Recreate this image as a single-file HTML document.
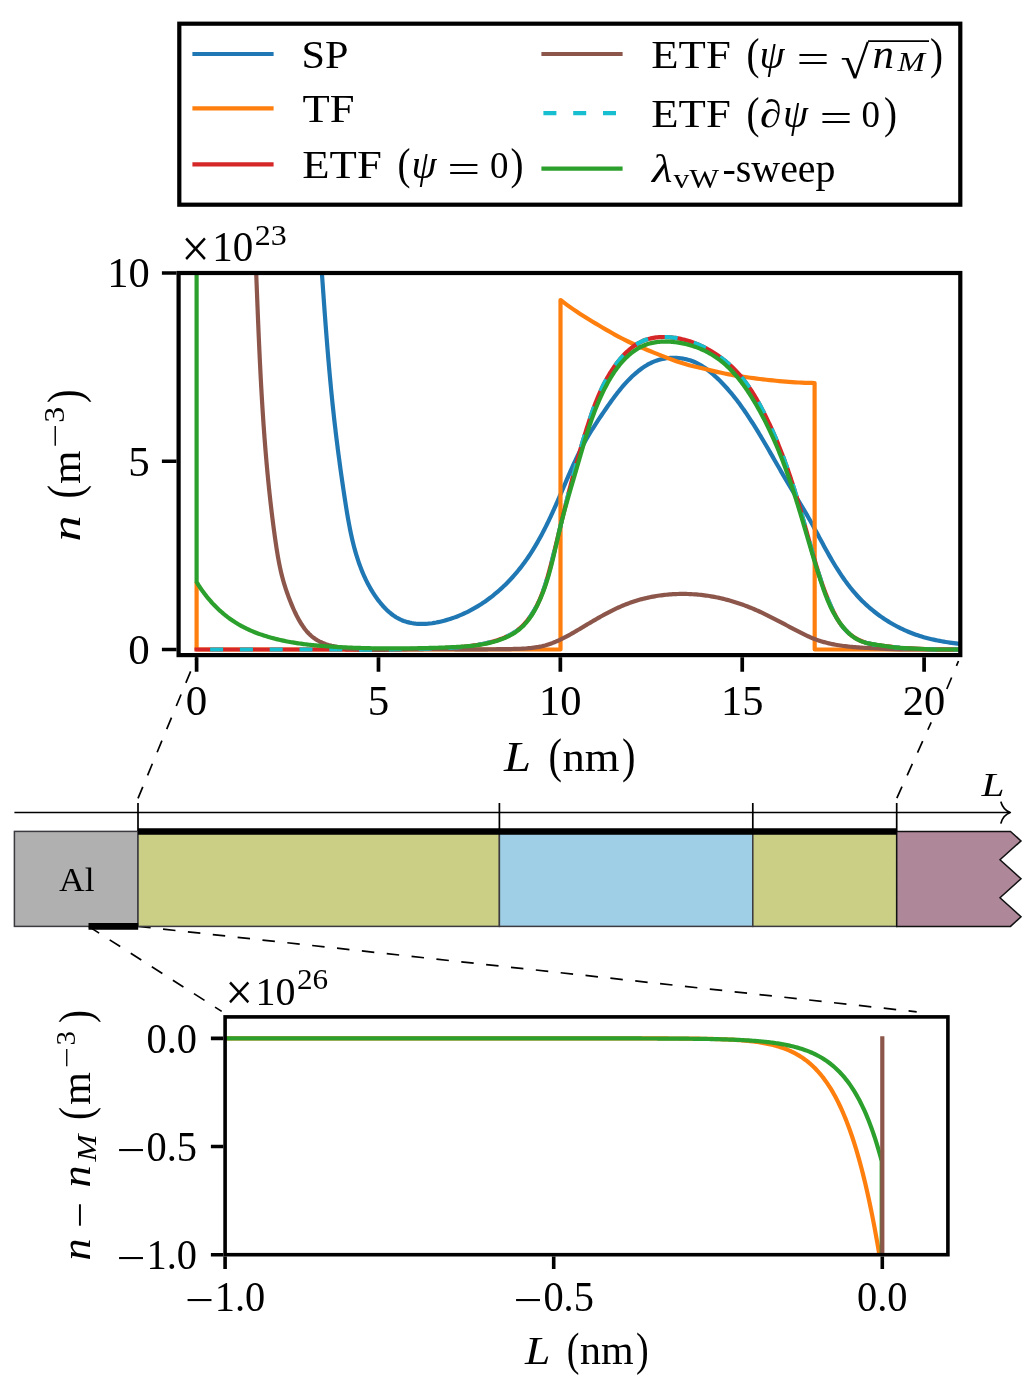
<!DOCTYPE html>
<html lang="en"><head><meta charset="utf-8"><title>Electron density profiles</title>
<style>html,body{margin:0;padding:0;background:#fff}svg{display:block}</style></head>
<body>
<svg width="1025" height="1396" viewBox="0 0 1025 1396" font-family='"Liberation Serif", "DejaVu Serif", serif' fill="#000">
<rect width="1025" height="1396" fill="#fff"/>
<defs><clipPath id="ct"><rect x="178.6" y="273" width="781.7" height="382.1"/></clipPath><clipPath id="cb"><rect x="225.1" y="1016.9" width="722.8" height="237.8"/></clipPath></defs>
<g id="legend">
<rect x="179.3" y="23.7" width="781" height="181" fill="#fff" stroke="#000" stroke-width="4.2"/>
<path d="M192.4 54 H273.6" stroke="#1f77b4" stroke-width="4.2" fill="none"/>
<path d="M192.4 108.4 H273.6" stroke="#ff7f0e" stroke-width="4.2" fill="none"/>
<path d="M192.4 164.4 H273.6" stroke="#d62728" stroke-width="4.2" fill="none"/>
<path d="M541.4 54 H622.6" stroke="#8c564b" stroke-width="4.2" fill="none"/>
<path d="M541.4 113.2 H622.6" stroke="#17becf" stroke-width="4.2" fill="none" stroke-dasharray="13 16.8" stroke-dashoffset="27.8"/>
<path d="M541.4 168.6 H622.6" stroke="#2ca02c" stroke-width="4.2" fill="none"/>
</g>
<g id="topaxes">
<g clip-path="url(#ct)" fill="none" stroke-width="4.2" stroke-linejoin="round">
<path d="M320.27 250.01 L320.42 252.05 L320.56 254.09 L320.71 256.13 L320.85 258.17 L320.99 260.21 L321.14 262.26 L321.28 264.3 L321.42 266.34 L321.57 268.38 L321.71 270.42 L321.85 272.47 L322 274.51 L322.14 276.55 L322.28 278.59 L322.42 280.64 L322.57 282.68 L322.71 284.72 L322.86 286.77 L323 288.81 L323.15 290.85 L323.29 292.9 L323.44 294.94 L323.58 296.98 L323.73 299.03 L323.87 301.07 L324.02 303.11 L324.17 305.16 L324.32 307.2 L324.47 309.25 L324.61 311.29 L324.77 313.33 L324.92 315.38 L325.07 317.42 L325.22 319.47 L325.37 321.51 L325.53 323.55 L325.68 325.6 L325.84 327.64 L325.99 329.68 L326.15 331.73 L326.31 333.77 L326.47 335.82 L326.63 337.86 L326.79 339.9 L326.95 341.95 L327.12 343.99 L327.28 346.03 L327.45 348.07 L327.61 350.12 L327.78 352.16 L327.95 354.2 L328.12 356.24 L328.29 358.29 L328.47 360.33 L328.64 362.37 L328.82 364.41 L329 366.45 L329.18 368.49 L329.36 370.54 L329.54 372.58 L329.73 374.62 L329.91 376.66 L330.1 378.7 L330.29 380.74 L330.48 382.78 L330.67 384.82 L330.87 386.86 L331.06 388.89 L331.26 390.93 L331.46 392.97 L331.66 395.01 L331.87 397.05 L332.07 399.08 L332.28 401.12 L332.49 403.16 L332.7 405.19 L332.92 407.23 L333.13 409.27 L333.35 411.3 L333.57 413.34 L333.8 415.37 L334.02 417.41 L334.25 419.44 L334.48 421.47 L334.71 423.51 L334.94 425.54 L335.18 427.57 L335.42 429.6 L335.66 431.63 L335.9 433.67 L336.15 435.7 L336.39 437.73 L336.64 439.76 L336.9 441.79 L337.15 443.82 L337.41 445.85 L337.66 447.88 L337.92 449.91 L338.19 451.94 L338.45 453.97 L338.72 456 L338.99 458.03 L339.26 460.06 L339.53 462.09 L339.81 464.12 L340.08 466.15 L340.36 468.18 L340.64 470.21 L340.93 472.23 L341.21 474.26 L341.5 476.29 L341.79 478.32 L342.08 480.35 L342.38 482.38 L342.67 484.41 L342.97 486.44 L343.27 488.47 L343.57 490.5 L343.87 492.53 L344.18 494.56 L344.49 496.59 L344.8 498.62 L345.11 500.65 L345.42 502.68 L345.74 504.71 L346.06 506.74 L346.38 508.77 L346.71 510.8 L347.05 512.83 L347.39 514.85 L347.73 516.88 L348.08 518.9 L348.45 520.92 L348.81 522.94 L349.19 524.96 L349.58 526.97 L349.97 528.99 L350.38 530.99 L350.8 533 L351.23 535 L351.67 537 L352.13 539 L352.6 540.99 L353.08 542.97 L353.58 544.96 L354.09 546.93 L354.62 548.91 L355.17 550.87 L355.73 552.84 L356.32 554.79 L356.92 556.74 L357.53 558.69 L358.17 560.63 L358.83 562.56 L359.51 564.48 L360.21 566.4 L360.93 568.31 L361.68 570.21 L362.45 572.11 L363.24 573.99 L364.06 575.87 L364.91 577.73 L365.78 579.58 L366.68 581.42 L367.6 583.24 L368.56 585.06 L369.54 586.85 L370.56 588.64 L371.61 590.4 L372.68 592.16 L373.79 593.89 L374.94 595.61 L376.11 597.3 L377.33 598.98 L378.57 600.64 L379.86 602.28 L381.18 603.89 L382.53 605.47 L383.93 607.01 L385.36 608.51 L386.83 609.96 L388.34 611.37 L389.89 612.72 L391.48 614 L393.11 615.23 L394.78 616.38 L396.49 617.46 L398.25 618.45 L400.05 619.36 L401.89 620.19 L403.76 620.93 L405.67 621.58 L407.62 622.15 L409.59 622.64 L411.58 623.05 L413.6 623.38 L415.63 623.64 L417.67 623.82 L419.73 623.93 L421.79 623.97 L423.85 623.94 L425.91 623.85 L427.97 623.69 L430.03 623.48 L432.08 623.22 L434.13 622.9 L436.16 622.54 L438.19 622.13 L440.21 621.69 L442.22 621.21 L444.22 620.69 L446.2 620.15 L448.17 619.57 L450.13 618.95 L452.08 618.31 L454.02 617.63 L455.94 616.92 L457.85 616.18 L459.74 615.41 L461.63 614.61 L463.49 613.78 L465.35 612.92 L467.19 612.03 L469.02 611.11 L470.83 610.17 L472.63 609.19 L474.42 608.19 L476.19 607.17 L477.94 606.11 L479.69 605.03 L481.41 603.93 L483.12 602.8 L484.82 601.65 L486.5 600.47 L488.16 599.27 L489.81 598.05 L491.44 596.8 L493.05 595.53 L494.65 594.24 L496.23 592.93 L497.8 591.6 L499.35 590.24 L500.88 588.87 L502.39 587.48 L503.89 586.07 L505.37 584.64 L506.83 583.19 L508.27 581.73 L509.7 580.24 L511.1 578.74 L512.49 577.23 L513.86 575.7 L515.21 574.15 L516.54 572.59 L517.86 571.01 L519.15 569.42 L520.42 567.82 L521.68 566.2 L522.91 564.57 L524.13 562.93 L525.33 561.27 L526.51 559.6 L527.67 557.93 L528.82 556.24 L529.94 554.53 L531.06 552.82 L532.15 551.1 L533.24 549.37 L534.3 547.63 L535.35 545.87 L536.39 544.11 L537.41 542.34 L538.43 540.57 L539.42 538.78 L540.41 536.99 L541.38 535.18 L542.34 533.38 L543.29 531.56 L544.23 529.74 L545.16 527.91 L546.08 526.08 L546.99 524.24 L547.89 522.39 L548.78 520.54 L549.66 518.68 L550.54 516.82 L551.4 514.96 L552.26 513.09 L553.12 511.22 L553.96 509.35 L554.81 507.47 L555.64 505.59 L556.47 503.71 L557.3 501.83 L558.12 499.94 L558.94 498.06 L559.75 496.17 L560.56 494.28 L561.37 492.39 L562.18 490.5 L562.98 488.62 L563.79 486.73 L564.59 484.84 L565.4 482.96 L566.21 481.07 L567.02 479.19 L567.83 477.31 L568.64 475.43 L569.46 473.55 L570.29 471.68 L571.11 469.81 L571.95 467.95 L572.79 466.08 L573.64 464.22 L574.49 462.37 L575.36 460.52 L576.23 458.67 L577.11 456.83 L578 455 L578.91 453.17 L579.82 451.35 L580.75 449.53 L581.69 447.72 L582.64 445.92 L583.61 444.12 L584.59 442.33 L585.59 440.55 L586.6 438.78 L587.63 437.01 L588.67 435.25 L589.72 433.5 L590.78 431.75 L591.86 430.01 L592.95 428.27 L594.05 426.54 L595.16 424.82 L596.27 423.1 L597.4 421.38 L598.53 419.67 L599.67 417.96 L600.82 416.25 L601.97 414.55 L603.13 412.85 L604.29 411.15 L605.45 409.45 L606.62 407.76 L607.8 406.07 L608.98 404.38 L610.16 402.7 L611.36 401.03 L612.56 399.36 L613.78 397.71 L615.01 396.06 L616.25 394.42 L617.5 392.8 L618.77 391.19 L620.05 389.6 L621.35 388.02 L622.67 386.46 L624.01 384.91 L625.37 383.39 L626.75 381.88 L628.16 380.4 L629.59 378.94 L631.04 377.51 L632.52 376.1 L634.03 374.71 L635.56 373.36 L637.13 372.03 L638.72 370.74 L640.35 369.49 L642 368.28 L643.69 367.11 L645.41 366 L647.16 364.94 L648.94 363.95 L650.75 363.02 L652.6 362.15 L654.48 361.37 L656.4 360.65 L658.34 360.02 L660.32 359.47 L662.32 358.99 L664.33 358.59 L666.37 358.27 L668.42 358.03 L670.47 357.87 L672.54 357.79 L674.6 357.79 L676.66 357.86 L678.72 358.02 L680.77 358.25 L682.81 358.56 L684.83 358.95 L686.83 359.41 L688.8 359.95 L690.76 360.57 L692.68 361.27 L694.57 362.03 L696.42 362.88 L698.24 363.79 L700.02 364.77 L701.77 365.82 L703.48 366.92 L705.17 368.07 L706.82 369.27 L708.45 370.52 L710.05 371.8 L711.63 373.12 L713.18 374.47 L714.71 375.84 L716.23 377.23 L717.72 378.64 L719.19 380.07 L720.64 381.52 L722.07 382.98 L723.48 384.46 L724.88 385.96 L726.26 387.47 L727.62 389 L728.96 390.54 L730.29 392.1 L731.6 393.67 L732.9 395.26 L734.18 396.85 L735.45 398.46 L736.7 400.09 L737.94 401.72 L739.16 403.36 L740.38 405.02 L741.58 406.68 L742.77 408.35 L743.95 410.03 L745.11 411.72 L746.27 413.42 L747.41 415.12 L748.55 416.84 L749.67 418.55 L750.79 420.28 L751.9 422 L753 423.74 L754.1 425.47 L755.18 427.21 L756.26 428.96 L757.33 430.71 L758.4 432.45 L759.46 434.21 L760.52 435.96 L761.57 437.72 L762.61 439.48 L763.66 441.24 L764.69 443 L765.73 444.77 L766.76 446.54 L767.79 448.3 L768.81 450.07 L769.84 451.84 L770.86 453.62 L771.88 455.39 L772.9 457.16 L773.91 458.93 L774.93 460.71 L775.95 462.48 L776.97 464.26 L777.98 466.03 L779 467.8 L780.02 469.58 L781.04 471.35 L782.07 473.12 L783.09 474.89 L784.12 476.66 L785.15 478.43 L786.19 480.19 L787.23 481.96 L788.27 483.72 L789.32 485.48 L790.37 487.24 L791.42 489 L792.48 490.76 L793.54 492.52 L794.6 494.27 L795.66 496.03 L796.72 497.78 L797.78 499.54 L798.84 501.3 L799.89 503.05 L800.95 504.81 L802 506.57 L803.05 508.33 L804.09 510.1 L805.13 511.86 L806.17 513.63 L807.2 515.4 L808.22 517.18 L809.23 518.96 L810.24 520.74 L811.24 522.52 L812.23 524.31 L813.21 526.11 L814.19 527.9 L815.17 529.7 L816.14 531.49 L817.11 533.29 L818.08 535.1 L819.04 536.9 L820.01 538.7 L820.98 540.5 L821.95 542.3 L822.92 544.1 L823.89 545.9 L824.87 547.7 L825.86 549.49 L826.85 551.28 L827.84 553.07 L828.85 554.86 L829.86 556.64 L830.89 558.42 L831.92 560.2 L832.96 561.97 L834.02 563.73 L835.08 565.48 L836.16 567.23 L837.25 568.98 L838.36 570.71 L839.47 572.43 L840.61 574.15 L841.75 575.85 L842.91 577.54 L844.09 579.22 L845.28 580.89 L846.49 582.55 L847.71 584.19 L848.96 585.82 L850.22 587.43 L851.5 589.03 L852.79 590.61 L854.11 592.17 L855.45 593.72 L856.8 595.25 L858.18 596.76 L859.58 598.25 L861 599.72 L862.44 601.17 L863.91 602.6 L865.39 604.01 L866.9 605.4 L868.42 606.77 L869.97 608.11 L871.53 609.43 L873.11 610.73 L874.72 612.01 L876.34 613.27 L877.97 614.5 L879.63 615.71 L881.3 616.9 L882.99 618.06 L884.7 619.2 L886.42 620.31 L888.16 621.4 L889.91 622.47 L891.68 623.51 L893.46 624.52 L895.26 625.51 L897.07 626.48 L898.89 627.42 L900.73 628.33 L902.58 629.22 L904.44 630.08 L906.32 630.91 L908.2 631.71 L910.1 632.49 L912 633.24 L913.92 633.96 L915.85 634.66 L917.79 635.32 L919.73 635.96 L921.69 636.57 L923.65 637.15 L925.63 637.7 L927.61 638.23 L929.59 638.73 L931.59 639.21 L933.59 639.67 L935.59 640.1 L937.6 640.51 L939.61 640.9 L941.63 641.26 L943.65 641.61 L945.68 641.95 L947.71 642.26 L949.74 642.56 L951.77 642.84 L953.8 643.11 L955.83 643.37 L957.87 643.61 L959.9 643.85 L961.93 644.07 L963.96 644.28 L965.99 644.48" stroke="#1f77b4"/>
<path d="M196.6 582 L196.6 649.5 L560.5 649.5 L560.5 300 L563.72 302.45 L566.93 304.82 L570.15 307.12 L573.37 309.36 L576.58 311.54 L579.8 313.66 L583.02 315.74 L586.23 317.77 L589.45 319.77 L592.66 321.72 L595.88 323.65 L599.1 325.56 L602.31 327.44 L605.53 329.31 L608.75 331.16 L611.96 333 L615.18 334.8 L618.4 336.56 L621.61 338.27 L624.83 339.91 L628.05 341.5 L631.26 343.01 L634.48 344.48 L637.69 345.9 L640.91 347.28 L644.13 348.64 L647.34 349.97 L650.56 351.29 L653.78 352.59 L656.99 353.87 L660.21 355.14 L663.43 356.39 L666.64 357.63 L669.86 358.85 L673.08 360.03 L676.29 361.18 L679.51 362.27 L682.73 363.31 L685.94 364.27 L689.16 365.17 L692.37 366 L695.59 366.79 L698.81 367.56 L702.02 368.31 L705.24 369.06 L708.46 369.82 L711.67 370.59 L714.89 371.35 L718.11 372.1 L721.32 372.82 L724.54 373.51 L727.76 374.15 L730.97 374.75 L734.19 375.31 L737.41 375.85 L740.62 376.35 L743.84 376.83 L747.05 377.29 L750.27 377.74 L753.49 378.17 L756.7 378.59 L759.92 378.99 L763.14 379.38 L766.35 379.76 L769.57 380.11 L772.79 380.46 L776 380.78 L779.22 381.09 L782.44 381.38 L785.65 381.65 L788.87 381.9 L792.08 382.13 L795.3 382.33 L798.52 382.51 L801.73 382.66 L804.95 382.79 L808.17 382.89 L811.38 382.96 L814.6 383 L814.7 649.5 L966 649.5" stroke="#ff7f0e"/>
<path d="M196.6 649.5 L339.99 649.49 L341.36 649.5 L342.72 649.51 L344.08 649.52 L345.44 649.53 L346.8 649.54 L348.16 649.55 L349.52 649.56 L350.87 649.56 L352.23 649.57 L353.59 649.57 L354.95 649.58 L356.31 649.58 L357.67 649.58 L359.02 649.58 L360.38 649.58 L361.74 649.58 L363.09 649.57 L364.45 649.57 L365.81 649.56 L367.16 649.56 L368.52 649.55 L369.88 649.54 L371.23 649.54 L372.59 649.53 L373.95 649.52 L375.3 649.51 L376.66 649.49 L378.01 649.48 L379.37 649.47 L380.72 649.45 L382.08 649.44 L383.43 649.42 L384.79 649.41 L386.14 649.39 L387.5 649.37 L388.85 649.35 L390.21 649.33 L391.56 649.31 L392.92 649.29 L394.27 649.27 L395.63 649.25 L396.99 649.23 L398.34 649.2 L399.7 649.18 L401.05 649.15 L402.41 649.13 L403.76 649.1 L405.12 649.07 L406.47 649.05 L407.83 649.02 L409.18 648.99 L410.54 648.96 L411.9 648.93 L413.25 648.9 L414.61 648.87 L415.97 648.84 L417.32 648.81 L418.68 648.77 L420.04 648.74 L421.39 648.71 L422.75 648.67 L424.11 648.64 L425.47 648.61 L426.83 648.57 L428.18 648.53 L429.54 648.5 L430.9 648.46 L432.26 648.42 L433.62 648.39 L434.98 648.35 L436.34 648.31 L437.7 648.26 L439.06 648.22 L440.42 648.17 L441.78 648.12 L443.14 648.07 L444.5 648.01 L445.85 647.96 L447.21 647.89 L448.57 647.83 L449.93 647.75 L451.29 647.68 L452.64 647.6 L454 647.51 L455.35 647.42 L456.71 647.33 L458.06 647.22 L459.41 647.12 L460.77 647 L462.12 646.88 L463.47 646.75 L464.82 646.61 L466.17 646.47 L467.51 646.32 L468.86 646.16 L470.21 645.99 L471.55 645.81 L472.89 645.62 L474.23 645.43 L475.57 645.22 L476.91 645.01 L478.25 644.78 L479.59 644.54 L480.92 644.3 L482.25 644.04 L483.58 643.77 L484.91 643.49 L486.24 643.2 L487.56 642.89 L488.89 642.58 L490.21 642.25 L491.53 641.9 L492.85 641.55 L494.16 641.17 L495.47 640.79 L496.77 640.39 L498.07 639.97 L499.36 639.53 L500.64 639.07 L501.91 638.6 L503.18 638.1 L504.43 637.59 L505.68 637.05 L506.91 636.49 L508.13 635.91 L509.33 635.3 L510.53 634.67 L511.7 634.01 L512.86 633.33 L514.01 632.62 L515.14 631.89 L516.24 631.12 L517.33 630.33 L518.4 629.5 L519.45 628.65 L520.48 627.76 L521.49 626.84 L522.47 625.9 L523.44 624.92 L524.38 623.93 L525.3 622.9 L526.2 621.86 L527.08 620.8 L527.93 619.72 L528.77 618.63 L529.59 617.52 L530.38 616.4 L531.16 615.27 L531.91 614.13 L532.65 612.99 L533.36 611.83 L534.06 610.66 L534.74 609.49 L535.4 608.31 L536.05 607.12 L536.68 605.92 L537.29 604.71 L537.88 603.5 L538.47 602.28 L539.03 601.05 L539.58 599.81 L540.12 598.57 L540.65 597.33 L541.16 596.07 L541.66 594.82 L542.15 593.55 L542.63 592.28 L543.09 591.01 L543.55 589.73 L543.99 588.45 L544.43 587.17 L544.86 585.88 L545.28 584.58 L545.69 583.29 L546.09 581.99 L546.49 580.69 L546.87 579.38 L547.26 578.07 L547.63 576.77 L548.01 575.46 L548.37 574.14 L548.74 572.83 L549.1 571.52 L549.45 570.2 L549.8 568.89 L550.15 567.57 L550.5 566.26 L550.85 564.94 L551.19 563.63 L551.53 562.31 L551.88 560.99 L552.21 559.68 L552.55 558.36 L552.89 557.05 L553.22 555.73 L553.55 554.42 L553.88 553.1 L554.21 551.78 L554.54 550.47 L554.87 549.15 L555.19 547.84 L555.52 546.52 L555.84 545.2 L556.16 543.89 L556.48 542.57 L556.81 541.25 L557.13 539.94 L557.45 538.62 L557.77 537.3 L558.09 535.99 L558.4 534.67 L558.72 533.35 L559.04 532.03 L559.36 530.72 L559.68 529.4 L560 528.08 L560.31 526.77 L560.63 525.45 L560.95 524.13 L561.27 522.81 L561.59 521.5 L561.91 520.18 L562.23 518.86 L562.55 517.54 L562.87 516.22 L563.19 514.91 L563.51 513.59 L563.84 512.27 L564.16 510.95 L564.48 509.63 L564.81 508.32 L565.13 507 L565.46 505.68 L565.78 504.36 L566.11 503.05 L566.44 501.73 L566.77 500.41 L567.1 499.1 L567.43 497.78 L567.76 496.46 L568.09 495.15 L568.42 493.83 L568.75 492.51 L569.09 491.2 L569.42 489.88 L569.76 488.56 L570.1 487.25 L570.44 485.93 L570.78 484.62 L571.12 483.3 L571.46 481.99 L571.8 480.68 L572.14 479.36 L572.49 478.05 L572.84 476.73 L573.18 475.42 L573.53 474.11 L573.88 472.8 L574.23 471.48 L574.59 470.17 L574.94 468.86 L575.3 467.55 L575.65 466.24 L576.01 464.93 L576.37 463.62 L576.73 462.31 L577.1 461 L577.46 459.69 L577.83 458.38 L578.19 457.08 L578.56 455.77 L578.93 454.46 L579.31 453.16 L579.68 451.85 L580.06 450.55 L580.44 449.24 L580.82 447.94 L581.2 446.63 L581.58 445.33 L581.97 444.03 L582.35 442.73 L582.74 441.43 L583.13 440.13 L583.53 438.83 L583.92 437.53 L584.32 436.23 L584.72 434.93 L585.12 433.63 L585.52 432.34 L585.93 431.04 L586.33 429.74 L586.74 428.45 L587.15 427.16 L587.57 425.86 L587.98 424.57 L588.4 423.28 L588.82 421.99 L589.25 420.7 L589.67 419.41 L590.1 418.12 L590.54 416.83 L590.97 415.55 L591.41 414.27 L591.86 412.98 L592.31 411.7 L592.76 410.43 L593.22 409.15 L593.68 407.88 L594.15 406.61 L594.63 405.34 L595.11 404.07 L595.59 402.81 L596.09 401.55 L596.59 400.29 L597.09 399.04 L597.6 397.78 L598.12 396.54 L598.65 395.29 L599.19 394.05 L599.73 392.81 L600.28 391.58 L600.84 390.35 L601.41 389.13 L601.99 387.91 L602.58 386.69 L603.17 385.48 L603.78 384.27 L604.4 383.07 L605.02 381.87 L605.66 380.68 L606.31 379.49 L606.97 378.31 L607.63 377.13 L608.32 375.96 L609.01 374.79 L609.71 373.64 L610.43 372.48 L611.16 371.33 L611.9 370.19 L612.65 369.06 L613.42 367.93 L614.2 366.8 L614.99 365.69 L615.8 364.58 L616.62 363.48 L617.46 362.38 L618.31 361.3 L619.17 360.22 L620.05 359.16 L620.95 358.1 L621.85 357.06 L622.78 356.04 L623.72 355.03 L624.67 354.04 L625.64 353.06 L626.62 352.1 L627.62 351.17 L628.63 350.25 L629.66 349.36 L630.7 348.49 L631.76 347.64 L632.84 346.82 L633.93 346.03 L635.03 345.27 L636.15 344.53 L637.29 343.83 L638.45 343.15 L639.62 342.51 L640.8 341.9 L642 341.33 L643.22 340.79 L644.46 340.29 L645.71 339.83 L646.98 339.41 L648.26 339.02 L649.56 338.67 L650.87 338.36 L652.19 338.08 L653.52 337.83 L654.86 337.62 L656.21 337.44 L657.56 337.29 L658.93 337.18 L660.3 337.09 L661.67 337.04 L663.04 337.01 L664.42 337.01 L665.8 337.04 L667.18 337.09 L668.56 337.17 L669.94 337.27 L671.31 337.4 L672.68 337.55 L674.04 337.72 L675.4 337.91 L676.75 338.13 L678.09 338.36 L679.43 338.62 L680.76 338.9 L682.08 339.19 L683.4 339.51 L684.71 339.84 L686.01 340.19 L687.3 340.56 L688.59 340.96 L689.88 341.36 L691.15 341.79 L692.42 342.24 L693.68 342.7 L694.94 343.18 L696.19 343.67 L697.43 344.19 L698.67 344.72 L699.9 345.26 L701.13 345.83 L702.35 346.4 L703.56 347 L704.77 347.61 L705.98 348.23 L707.17 348.87 L708.36 349.53 L709.55 350.19 L710.72 350.88 L711.89 351.58 L713.05 352.29 L714.21 353.01 L715.36 353.75 L716.49 354.5 L717.63 355.27 L718.75 356.05 L719.86 356.84 L720.96 357.65 L722.06 358.47 L723.14 359.3 L724.22 360.14 L725.29 361 L726.34 361.86 L727.38 362.74 L728.42 363.63 L729.44 364.54 L730.45 365.45 L731.45 366.38 L732.44 367.31 L733.41 368.26 L734.38 369.22 L735.33 370.19 L736.27 371.17 L737.19 372.16 L738.11 373.16 L739.01 374.17 L739.9 375.19 L740.77 376.21 L741.64 377.25 L742.49 378.3 L743.34 379.35 L744.17 380.42 L744.99 381.49 L745.8 382.57 L746.6 383.66 L747.4 384.75 L748.18 385.85 L748.95 386.96 L749.71 388.08 L750.47 389.2 L751.21 390.33 L751.95 391.47 L752.67 392.61 L753.39 393.76 L754.1 394.92 L754.81 396.07 L755.5 397.24 L756.19 398.41 L756.87 399.58 L757.55 400.76 L758.21 401.95 L758.87 403.13 L759.53 404.33 L760.18 405.52 L760.82 406.72 L761.46 407.92 L762.09 409.13 L762.71 410.34 L763.33 411.55 L763.95 412.76 L764.56 413.98 L765.17 415.19 L765.77 416.41 L766.37 417.63 L766.96 418.86 L767.55 420.08 L768.14 421.31 L768.72 422.54 L769.3 423.77 L769.87 425 L770.44 426.23 L771 427.47 L771.56 428.7 L772.12 429.94 L772.68 431.18 L773.23 432.42 L773.77 433.66 L774.31 434.91 L774.85 436.16 L775.39 437.4 L775.92 438.65 L776.44 439.9 L776.97 441.16 L777.49 442.41 L778 443.66 L778.51 444.92 L779.02 446.18 L779.53 447.44 L780.03 448.7 L780.53 449.96 L781.02 451.22 L781.51 452.49 L782 453.75 L782.49 455.02 L782.97 456.29 L783.45 457.56 L783.92 458.83 L784.39 460.1 L784.86 461.38 L785.33 462.65 L785.79 463.93 L786.25 465.2 L786.7 466.48 L787.15 467.76 L787.6 469.04 L788.05 470.32 L788.49 471.6 L788.94 472.89 L789.37 474.17 L789.81 475.46 L790.24 476.74 L790.67 478.03 L791.09 479.32 L791.52 480.61 L791.94 481.9 L792.36 483.19 L792.77 484.48 L793.18 485.77 L793.6 487.07 L794 488.36 L794.41 489.66 L794.81 490.95 L795.21 492.25 L795.61 493.55 L796.01 494.85 L796.4 496.14 L796.79 497.44 L797.18 498.74 L797.57 500.04 L797.96 501.35 L798.34 502.65 L798.72 503.95 L799.11 505.25 L799.49 506.56 L799.86 507.86 L800.24 509.16 L800.62 510.47 L800.99 511.77 L801.37 513.08 L801.74 514.38 L802.11 515.69 L802.48 517 L802.85 518.3 L803.22 519.61 L803.59 520.91 L803.96 522.22 L804.32 523.53 L804.69 524.84 L805.06 526.14 L805.42 527.45 L805.79 528.76 L806.15 530.07 L806.52 531.37 L806.88 532.68 L807.25 533.99 L807.61 535.3 L807.98 536.6 L808.34 537.91 L808.71 539.22 L809.08 540.52 L809.44 541.83 L809.81 543.14 L810.18 544.44 L810.55 545.75 L810.92 547.05 L811.29 548.36 L811.66 549.66 L812.03 550.97 L812.4 552.27 L812.78 553.58 L813.15 554.88 L813.53 556.18 L813.91 557.49 L814.28 558.79 L814.67 560.09 L815.05 561.39 L815.43 562.69 L815.82 563.99 L816.2 565.29 L816.6 566.59 L816.99 567.88 L817.38 569.18 L817.78 570.48 L818.18 571.77 L818.59 573.06 L819 574.36 L819.41 575.65 L819.82 576.94 L820.24 578.22 L820.67 579.51 L821.09 580.8 L821.53 582.08 L821.96 583.36 L822.41 584.64 L822.85 585.92 L823.31 587.2 L823.77 588.48 L824.23 589.75 L824.7 591.02 L825.18 592.29 L825.66 593.56 L826.15 594.83 L826.64 596.09 L827.15 597.35 L827.66 598.61 L828.17 599.87 L828.7 601.13 L829.23 602.38 L829.77 603.63 L830.32 604.88 L830.87 606.12 L831.44 607.36 L832.01 608.6 L832.59 609.84 L833.19 611.08 L833.79 612.31 L834.4 613.53 L835.03 614.75 L835.67 615.96 L836.32 617.16 L836.99 618.35 L837.68 619.53 L838.39 620.7 L839.12 621.85 L839.87 622.98 L840.65 624.1 L841.45 625.2 L842.27 626.28 L843.13 627.34 L844 628.38 L844.91 629.39 L845.84 630.38 L846.79 631.35 L847.77 632.29 L848.78 633.2 L849.8 634.08 L850.85 634.93 L851.93 635.75 L853.02 636.53 L854.14 637.29 L855.28 638 L856.44 638.69 L857.62 639.33 L858.82 639.94 L860.04 640.5 L861.28 641.03 L862.54 641.52 L863.81 641.97 L865.1 642.39 L866.4 642.78 L867.71 643.14 L869.03 643.47 L870.35 643.78 L871.69 644.07 L873.02 644.34 L874.37 644.59 L875.71 644.82 L877.06 645.04 L878.42 645.24 L879.77 645.43 L881.13 645.61 L882.49 645.79 L883.85 645.95 L885.21 646.11 L886.56 646.26 L887.92 646.41 L889.28 646.55 L890.63 646.7 L891.98 646.85 L893.32 647 L894.66 647.16 L896 647.32 L897.33 647.48 L898.65 647.66 L899.97 647.85 L915 648.6 L935 649.5 L966 649.5" stroke="#d62728" stroke-linecap="square"/>
<path d="M255.27 250 L255.34 251.66 L255.41 253.31 L255.47 254.97 L255.54 256.62 L255.6 258.28 L255.67 259.93 L255.74 261.59 L255.8 263.24 L255.87 264.9 L255.93 266.55 L256 268.21 L256.06 269.86 L256.13 271.52 L256.19 273.17 L256.26 274.83 L256.32 276.48 L256.39 278.14 L256.45 279.8 L256.52 281.45 L256.58 283.11 L256.65 284.76 L256.71 286.42 L256.78 288.08 L256.84 289.73 L256.91 291.39 L256.97 293.04 L257.04 294.7 L257.1 296.35 L257.17 298.01 L257.23 299.67 L257.3 301.32 L257.36 302.98 L257.43 304.64 L257.5 306.29 L257.56 307.95 L257.63 309.6 L257.7 311.26 L257.76 312.92 L257.83 314.57 L257.9 316.23 L257.96 317.89 L258.03 319.54 L258.1 321.2 L258.17 322.85 L258.24 324.51 L258.31 326.17 L258.38 327.82 L258.45 329.48 L258.52 331.14 L258.59 332.79 L258.66 334.45 L258.73 336.1 L258.81 337.76 L258.88 339.42 L258.95 341.07 L259.03 342.73 L259.1 344.39 L259.18 346.04 L259.25 347.7 L259.33 349.35 L259.4 351.01 L259.48 352.67 L259.56 354.32 L259.64 355.98 L259.71 357.63 L259.79 359.29 L259.87 360.95 L259.95 362.6 L260.04 364.26 L260.12 365.91 L260.2 367.57 L260.28 369.22 L260.37 370.88 L260.45 372.54 L260.54 374.19 L260.62 375.85 L260.71 377.5 L260.8 379.16 L260.89 380.81 L260.98 382.47 L261.07 384.12 L261.16 385.78 L261.25 387.43 L261.34 389.09 L261.44 390.74 L261.53 392.4 L261.63 394.05 L261.72 395.71 L261.82 397.36 L261.92 399.02 L262.02 400.67 L262.12 402.33 L262.22 403.98 L262.32 405.63 L262.42 407.29 L262.53 408.94 L262.63 410.6 L262.74 412.25 L262.85 413.9 L262.96 415.56 L263.07 417.21 L263.18 418.86 L263.29 420.52 L263.4 422.17 L263.51 423.82 L263.63 425.48 L263.75 427.13 L263.86 428.78 L263.98 430.44 L264.1 432.09 L264.22 433.74 L264.35 435.39 L264.47 437.04 L264.59 438.7 L264.72 440.35 L264.85 442 L264.98 443.65 L265.11 445.3 L265.24 446.96 L265.37 448.61 L265.51 450.26 L265.64 451.91 L265.78 453.56 L265.92 455.21 L266.06 456.86 L266.2 458.51 L266.34 460.16 L266.48 461.81 L266.63 463.46 L266.78 465.11 L266.93 466.76 L267.08 468.41 L267.23 470.06 L267.38 471.71 L267.53 473.36 L267.69 475.01 L267.85 476.66 L268.01 478.31 L268.17 479.95 L268.33 481.6 L268.5 483.25 L268.66 484.9 L268.83 486.55 L269 488.2 L269.17 489.84 L269.35 491.49 L269.52 493.14 L269.7 494.79 L269.88 496.43 L270.06 498.08 L270.24 499.73 L270.42 501.38 L270.61 503.02 L270.8 504.67 L270.99 506.32 L271.18 507.96 L271.37 509.61 L271.57 511.26 L271.77 512.9 L271.97 514.55 L272.17 516.2 L272.37 517.84 L272.58 519.49 L272.79 521.13 L273 522.78 L273.21 524.43 L273.43 526.07 L273.64 527.72 L273.86 529.36 L274.09 531.01 L274.31 532.65 L274.53 534.3 L274.76 535.95 L274.99 537.59 L275.23 539.24 L275.46 540.88 L275.7 542.53 L275.94 544.17 L276.19 545.82 L276.43 547.46 L276.69 549.1 L276.95 550.74 L277.21 552.38 L277.48 554.02 L277.76 555.66 L278.04 557.3 L278.33 558.93 L278.63 560.56 L278.94 562.19 L279.26 563.82 L279.58 565.44 L279.92 567.06 L280.27 568.68 L280.62 570.3 L280.99 571.91 L281.37 573.52 L281.77 575.12 L282.18 576.72 L282.6 578.32 L283.03 579.91 L283.48 581.49 L283.94 583.08 L284.42 584.66 L284.91 586.23 L285.42 587.8 L285.93 589.37 L286.46 590.93 L287 592.5 L287.56 594.05 L288.12 595.61 L288.7 597.16 L289.28 598.71 L289.88 600.26 L290.48 601.81 L291.1 603.35 L291.73 604.89 L292.38 606.43 L293.04 607.96 L293.71 609.48 L294.4 611 L295.12 612.51 L295.85 614.02 L296.59 615.52 L297.37 617 L298.16 618.48 L298.97 619.95 L299.81 621.41 L300.68 622.85 L301.57 624.28 L302.5 625.69 L303.45 627.07 L304.43 628.42 L305.45 629.74 L306.51 631.02 L307.6 632.27 L308.73 633.47 L309.9 634.63 L311.11 635.74 L312.37 636.79 L313.66 637.8 L315 638.74 L316.37 639.64 L317.78 640.48 L319.22 641.27 L320.69 642.01 L322.19 642.7 L323.71 643.33 L325.26 643.91 L326.83 644.45 L328.41 644.93 L330.02 645.38 L331.63 645.79 L333.25 646.16 L334.89 646.51 L336.53 646.83 L338.17 647.13 L339.81 647.41 L341.45 647.67 L343.1 647.91 L344.74 648.14 L346.39 648.35 L348.04 648.54 L349.69 648.72 L351.34 648.88 L352.99 649.03 L354.64 649.16 L356.3 649.28 L357.95 649.39 L359.61 649.49 L361.27 649.57 L362.93 649.64 L364.58 649.7 L366.24 649.75 L367.9 649.8 L369.56 649.83 L371.22 649.85 L372.88 649.87 L374.55 649.88 L376.21 649.88 L377.87 649.88 L379.53 649.87 L381.19 649.85 L382.86 649.84 L384.52 649.81 L386.18 649.79 L387.84 649.76 L389.5 649.73 L391.16 649.7 L392.83 649.66 L394.49 649.63 L396.15 649.6 L397.81 649.57 L399.47 649.53 L401.12 649.5 L402.78 649.48 L404.44 649.45 L406.1 649.43 L407.75 649.41 L409.41 649.38 L411.06 649.37 L412.72 649.35 L414.37 649.33 L416.03 649.32 L417.68 649.31 L419.34 649.3 L420.99 649.29 L422.64 649.28 L424.29 649.27 L425.95 649.26 L427.6 649.26 L429.25 649.26 L430.9 649.25 L432.55 649.25 L434.2 649.25 L435.86 649.25 L437.51 649.25 L439.16 649.25 L440.81 649.25 L442.46 649.25 L444.11 649.25 L445.76 649.26 L447.41 649.26 L449.07 649.26 L450.72 649.27 L452.37 649.27 L454.02 649.27 L455.67 649.28 L457.33 649.28 L458.98 649.29 L460.63 649.29 L462.28 649.29 L463.94 649.3 L465.59 649.3 L467.25 649.3 L468.9 649.3 L470.56 649.3 L472.21 649.31 L473.87 649.31 L475.53 649.31 L477.18 649.3 L478.84 649.3 L480.5 649.3 L482.16 649.3 L483.82 649.29 L485.48 649.29 L487.14 649.28 L488.81 649.27 L490.47 649.26 L492.13 649.25 L493.8 649.24 L495.46 649.23 L497.13 649.21 L498.8 649.2 L500.46 649.18 L502.13 649.16 L503.8 649.14 L505.48 649.11 L507.15 649.09 L508.82 649.06 L510.5 649.03 L512.17 649 L513.85 648.97 L515.52 648.93 L517.2 648.88 L518.87 648.82 L520.54 648.76 L522.21 648.68 L523.88 648.58 L525.54 648.48 L527.2 648.35 L528.86 648.21 L530.51 648.05 L532.15 647.87 L533.79 647.66 L535.42 647.43 L537.05 647.17 L538.66 646.89 L540.27 646.57 L541.87 646.23 L543.46 645.85 L545.04 645.44 L546.61 644.99 L548.17 644.51 L549.72 644 L551.26 643.46 L552.79 642.89 L554.32 642.28 L555.83 641.66 L557.34 641 L558.84 640.33 L560.33 639.63 L561.82 638.91 L563.3 638.17 L564.78 637.41 L566.25 636.64 L567.71 635.85 L569.17 635.05 L570.63 634.24 L572.08 633.41 L573.53 632.58 L574.98 631.74 L576.42 630.9 L577.86 630.05 L579.3 629.19 L580.74 628.34 L582.17 627.48 L583.61 626.63 L585.04 625.77 L586.48 624.91 L587.91 624.06 L589.35 623.21 L590.78 622.36 L592.22 621.51 L593.66 620.67 L595.09 619.83 L596.53 618.99 L597.97 618.16 L599.42 617.34 L600.86 616.53 L602.31 615.72 L603.77 614.92 L605.22 614.12 L606.68 613.34 L608.14 612.57 L609.61 611.8 L611.08 611.05 L612.55 610.31 L614.03 609.58 L615.52 608.87 L617.01 608.17 L618.51 607.48 L620.01 606.8 L621.52 606.15 L623.03 605.5 L624.56 604.88 L626.09 604.27 L627.62 603.68 L629.17 603.1 L630.72 602.55 L632.28 602.01 L633.84 601.49 L635.41 600.98 L636.99 600.5 L638.58 600.03 L640.17 599.58 L641.76 599.15 L643.36 598.73 L644.97 598.34 L646.58 597.96 L648.2 597.59 L649.82 597.25 L651.44 596.92 L653.07 596.61 L654.7 596.32 L656.34 596.04 L657.98 595.78 L659.62 595.54 L661.27 595.31 L662.92 595.11 L664.57 594.92 L666.23 594.74 L667.88 594.58 L669.54 594.44 L671.2 594.32 L672.87 594.21 L674.53 594.12 L676.19 594.05 L677.86 593.99 L679.53 593.95 L681.19 593.93 L682.86 593.93 L684.53 593.94 L686.2 593.96 L687.86 594 L689.53 594.06 L691.19 594.14 L692.86 594.23 L694.52 594.34 L696.18 594.46 L697.84 594.6 L699.5 594.76 L701.16 594.93 L702.81 595.12 L704.47 595.33 L706.11 595.55 L707.76 595.79 L709.4 596.04 L711.04 596.31 L712.68 596.6 L714.31 596.9 L715.94 597.21 L717.56 597.54 L719.18 597.89 L720.8 598.26 L722.41 598.63 L724.02 599.03 L725.62 599.43 L727.22 599.86 L728.82 600.29 L730.41 600.74 L732 601.21 L733.58 601.68 L735.16 602.18 L736.73 602.68 L738.3 603.2 L739.87 603.73 L741.43 604.27 L742.99 604.83 L744.54 605.4 L746.09 605.98 L747.64 606.57 L749.18 607.18 L750.71 607.79 L752.25 608.42 L753.77 609.06 L755.3 609.71 L756.82 610.37 L758.33 611.04 L759.84 611.72 L761.35 612.41 L762.85 613.12 L764.34 613.83 L765.84 614.55 L767.33 615.28 L768.81 616.02 L770.3 616.76 L771.77 617.51 L773.25 618.27 L774.73 619.03 L776.2 619.79 L777.67 620.56 L779.14 621.34 L780.61 622.11 L782.07 622.89 L783.54 623.67 L785.01 624.45 L786.47 625.23 L787.94 626.02 L789.4 626.79 L790.87 627.57 L792.34 628.35 L793.8 629.12 L795.27 629.89 L796.75 630.65 L798.22 631.41 L799.69 632.17 L801.17 632.92 L802.65 633.66 L804.14 634.39 L805.63 635.11 L807.12 635.82 L808.62 636.51 L810.13 637.19 L811.65 637.83 L813.18 638.46 L814.72 639.06 L816.27 639.63 L817.83 640.18 L819.4 640.7 L820.98 641.2 L822.56 641.68 L824.16 642.13 L825.75 642.56 L827.36 642.97 L828.97 643.36 L830.58 643.73 L832.2 644.07 L833.83 644.4 L835.45 644.7 L837.08 644.99 L838.72 645.26 L840.36 645.52 L842 645.75 L843.64 645.98 L845.29 646.18 L846.94 646.38 L848.59 646.56 L850.24 646.73 L851.9 646.89 L853.55 647.04 L855.21 647.17 L856.87 647.3 L858.53 647.42 L860.19 647.54 L861.85 647.64 L863.51 647.74 L865.17 647.84 L866.83 647.93 L868.48 648.01 L870.14 648.1 L871.8 648.18 L873.45 648.26 L875.11 648.34 L876.76 648.41 L878.41 648.49 L880.06 648.58 L881.7 648.66 L883.34 648.75 L884.98 648.84 L900 649.5 L966 649.5" stroke="#8c564b"/>
<path d="M196.6 649.5 L339.99 649.49 L341.36 649.5 L342.72 649.51 L344.08 649.52 L345.44 649.53 L346.8 649.54 L348.16 649.55 L349.52 649.56 L350.87 649.56 L352.23 649.57 L353.59 649.57 L354.95 649.58 L356.31 649.58 L357.67 649.58 L359.02 649.58 L360.38 649.58 L361.74 649.58 L363.09 649.57 L364.45 649.57 L365.81 649.56 L367.16 649.56 L368.52 649.55 L369.88 649.54 L371.23 649.54 L372.59 649.53 L373.95 649.52 L375.3 649.51 L376.66 649.49 L378.01 649.48 L379.37 649.47 L380.72 649.45 L382.08 649.44 L383.43 649.42 L384.79 649.41 L386.14 649.39 L387.5 649.37 L388.85 649.35 L390.21 649.33 L391.56 649.31 L392.92 649.29 L394.27 649.27 L395.63 649.25 L396.99 649.23 L398.34 649.2 L399.7 649.18 L401.05 649.15 L402.41 649.13 L403.76 649.1 L405.12 649.07 L406.47 649.05 L407.83 649.02 L409.18 648.99 L410.54 648.96 L411.9 648.93 L413.25 648.9 L414.61 648.87 L415.97 648.84 L417.32 648.81 L418.68 648.77 L420.04 648.74 L421.39 648.71 L422.75 648.67 L424.11 648.64 L425.47 648.61 L426.83 648.57 L428.18 648.53 L429.54 648.5 L430.9 648.46 L432.26 648.42 L433.62 648.39 L434.98 648.35 L436.34 648.31 L437.7 648.26 L439.06 648.22 L440.42 648.17 L441.78 648.12 L443.14 648.07 L444.5 648.01 L445.85 647.96 L447.21 647.89 L448.57 647.83 L449.93 647.75 L451.29 647.68 L452.64 647.6 L454 647.51 L455.35 647.42 L456.71 647.33 L458.06 647.22 L459.41 647.12 L460.77 647 L462.12 646.88 L463.47 646.75 L464.82 646.61 L466.17 646.47 L467.51 646.32 L468.86 646.16 L470.21 645.99 L471.55 645.81 L472.89 645.62 L474.23 645.43 L475.57 645.22 L476.91 645.01 L478.25 644.78 L479.59 644.54 L480.92 644.3 L482.25 644.04 L483.58 643.77 L484.91 643.49 L486.24 643.2 L487.56 642.89 L488.89 642.58 L490.21 642.25 L491.53 641.9 L492.85 641.55 L494.16 641.17 L495.47 640.79 L496.77 640.39 L498.07 639.97 L499.36 639.53 L500.64 639.07 L501.91 638.6 L503.18 638.1 L504.43 637.59 L505.68 637.05 L506.91 636.49 L508.13 635.91 L509.33 635.3 L510.53 634.67 L511.7 634.01 L512.86 633.33 L514.01 632.62 L515.14 631.89 L516.24 631.12 L517.33 630.33 L518.4 629.5 L519.45 628.65 L520.48 627.76 L521.49 626.84 L522.47 625.9 L523.44 624.92 L524.38 623.93 L525.3 622.9 L526.2 621.86 L527.08 620.8 L527.93 619.72 L528.77 618.63 L529.59 617.52 L530.38 616.4 L531.16 615.27 L531.91 614.13 L532.65 612.99 L533.36 611.83 L534.06 610.66 L534.74 609.49 L535.4 608.31 L536.05 607.12 L536.68 605.92 L537.29 604.71 L537.88 603.5 L538.47 602.28 L539.03 601.05 L539.58 599.81 L540.12 598.57 L540.65 597.33 L541.16 596.07 L541.66 594.82 L542.15 593.55 L542.63 592.28 L543.09 591.01 L543.55 589.73 L543.99 588.45 L544.43 587.17 L544.86 585.88 L545.28 584.58 L545.69 583.29 L546.09 581.99 L546.49 580.69 L546.87 579.38 L547.26 578.07 L547.63 576.77 L548.01 575.46 L548.37 574.14 L548.74 572.83 L549.1 571.52 L549.45 570.2 L549.8 568.89 L550.15 567.57 L550.5 566.26 L550.85 564.94 L551.19 563.63 L551.53 562.31 L551.88 560.99 L552.21 559.68 L552.55 558.36 L552.89 557.05 L553.22 555.73 L553.55 554.42 L553.88 553.1 L554.21 551.78 L554.54 550.47 L554.87 549.15 L555.19 547.84 L555.52 546.52 L555.84 545.2 L556.16 543.89 L556.48 542.57 L556.81 541.25 L557.13 539.94 L557.45 538.62 L557.77 537.3 L558.09 535.99 L558.4 534.67 L558.72 533.35 L559.04 532.03 L559.36 530.72 L559.68 529.4 L560 528.08 L560.31 526.77 L560.63 525.45 L560.95 524.13 L561.27 522.81 L561.59 521.5 L561.91 520.18 L562.23 518.86 L562.55 517.54 L562.87 516.22 L563.19 514.91 L563.51 513.59 L563.84 512.27 L564.16 510.95 L564.48 509.63 L564.81 508.32 L565.13 507 L565.46 505.68 L565.78 504.36 L566.11 503.05 L566.44 501.73 L566.77 500.41 L567.1 499.1 L567.43 497.78 L567.76 496.46 L568.09 495.15 L568.42 493.83 L568.75 492.51 L569.09 491.2 L569.42 489.88 L569.76 488.56 L570.1 487.25 L570.44 485.93 L570.78 484.62 L571.12 483.3 L571.46 481.99 L571.8 480.68 L572.14 479.36 L572.49 478.05 L572.84 476.73 L573.18 475.42 L573.53 474.11 L573.88 472.8 L574.23 471.48 L574.59 470.17 L574.94 468.86 L575.3 467.55 L575.65 466.24 L576.01 464.93 L576.37 463.62 L576.73 462.31 L577.1 461 L577.46 459.69 L577.83 458.38 L578.19 457.08 L578.56 455.77 L578.93 454.46 L579.31 453.16 L579.68 451.85 L580.06 450.55 L580.44 449.24 L580.82 447.94 L581.2 446.63 L581.58 445.33 L581.97 444.03 L582.35 442.73 L582.74 441.43 L583.13 440.13 L583.53 438.83 L583.92 437.53 L584.32 436.23 L584.72 434.93 L585.12 433.63 L585.52 432.34 L585.93 431.04 L586.33 429.74 L586.74 428.45 L587.15 427.16 L587.57 425.86 L587.98 424.57 L588.4 423.28 L588.82 421.99 L589.25 420.7 L589.67 419.41 L590.1 418.12 L590.54 416.83 L590.97 415.55 L591.41 414.27 L591.86 412.98 L592.31 411.7 L592.76 410.43 L593.22 409.15 L593.68 407.88 L594.15 406.61 L594.63 405.34 L595.11 404.07 L595.59 402.81 L596.09 401.55 L596.59 400.29 L597.09 399.04 L597.6 397.78 L598.12 396.54 L598.65 395.29 L599.19 394.05 L599.73 392.81 L600.28 391.58 L600.84 390.35 L601.41 389.13 L601.99 387.91 L602.58 386.69 L603.17 385.48 L603.78 384.27 L604.4 383.07 L605.02 381.87 L605.66 380.68 L606.31 379.49 L606.97 378.31 L607.63 377.13 L608.32 375.96 L609.01 374.79 L609.71 373.64 L610.43 372.48 L611.16 371.33 L611.9 370.19 L612.65 369.06 L613.42 367.93 L614.2 366.8 L614.99 365.69 L615.8 364.58 L616.62 363.48 L617.46 362.38 L618.31 361.3 L619.17 360.22 L620.05 359.16 L620.95 358.1 L621.85 357.06 L622.78 356.04 L623.72 355.03 L624.67 354.04 L625.64 353.06 L626.62 352.1 L627.62 351.17 L628.63 350.25 L629.66 349.36 L630.7 348.49 L631.76 347.64 L632.84 346.82 L633.93 346.03 L635.03 345.27 L636.15 344.53 L637.29 343.83 L638.45 343.15 L639.62 342.51 L640.8 341.9 L642 341.33 L643.22 340.79 L644.46 340.29 L645.71 339.83 L646.98 339.41 L648.26 339.02 L649.56 338.67 L650.87 338.36 L652.19 338.08 L653.52 337.83 L654.86 337.62 L656.21 337.44 L657.56 337.29 L658.93 337.18 L660.3 337.09 L661.67 337.04 L663.04 337.01 L664.42 337.01 L665.8 337.04 L667.18 337.09 L668.56 337.17 L669.94 337.27 L671.31 337.4 L672.68 337.55 L674.04 337.72 L675.4 337.91 L676.75 338.13 L678.09 338.36 L679.43 338.62 L680.76 338.9 L682.08 339.19 L683.4 339.51 L684.71 339.84 L686.01 340.19 L687.3 340.56 L688.59 340.96 L689.88 341.36 L691.15 341.79 L692.42 342.24 L693.68 342.7 L694.94 343.18 L696.19 343.67 L697.43 344.19 L698.67 344.72 L699.9 345.26 L701.13 345.83 L702.35 346.4 L703.56 347 L704.77 347.61 L705.98 348.23 L707.17 348.87 L708.36 349.53 L709.55 350.19 L710.72 350.88 L711.89 351.58 L713.05 352.29 L714.21 353.01 L715.36 353.75 L716.49 354.5 L717.63 355.27 L718.75 356.05 L719.86 356.84 L720.96 357.65 L722.06 358.47 L723.14 359.3 L724.22 360.14 L725.29 361 L726.34 361.86 L727.38 362.74 L728.42 363.63 L729.44 364.54 L730.45 365.45 L731.45 366.38 L732.44 367.31 L733.41 368.26 L734.38 369.22 L735.33 370.19 L736.27 371.17 L737.19 372.16 L738.11 373.16 L739.01 374.17 L739.9 375.19 L740.77 376.21 L741.64 377.25 L742.49 378.3 L743.34 379.35 L744.17 380.42 L744.99 381.49 L745.8 382.57 L746.6 383.66 L747.4 384.75 L748.18 385.85 L748.95 386.96 L749.71 388.08 L750.47 389.2 L751.21 390.33 L751.95 391.47 L752.67 392.61 L753.39 393.76 L754.1 394.92 L754.81 396.07 L755.5 397.24 L756.19 398.41 L756.87 399.58 L757.55 400.76 L758.21 401.95 L758.87 403.13 L759.53 404.33 L760.18 405.52 L760.82 406.72 L761.46 407.92 L762.09 409.13 L762.71 410.34 L763.33 411.55 L763.95 412.76 L764.56 413.98 L765.17 415.19 L765.77 416.41 L766.37 417.63 L766.96 418.86 L767.55 420.08 L768.14 421.31 L768.72 422.54 L769.3 423.77 L769.87 425 L770.44 426.23 L771 427.47 L771.56 428.7 L772.12 429.94 L772.68 431.18 L773.23 432.42 L773.77 433.66 L774.31 434.91 L774.85 436.16 L775.39 437.4 L775.92 438.65 L776.44 439.9 L776.97 441.16 L777.49 442.41 L778 443.66 L778.51 444.92 L779.02 446.18 L779.53 447.44 L780.03 448.7 L780.53 449.96 L781.02 451.22 L781.51 452.49 L782 453.75 L782.49 455.02 L782.97 456.29 L783.45 457.56 L783.92 458.83 L784.39 460.1 L784.86 461.38 L785.33 462.65 L785.79 463.93 L786.25 465.2 L786.7 466.48 L787.15 467.76 L787.6 469.04 L788.05 470.32 L788.49 471.6 L788.94 472.89 L789.37 474.17 L789.81 475.46 L790.24 476.74 L790.67 478.03 L791.09 479.32 L791.52 480.61 L791.94 481.9 L792.36 483.19 L792.77 484.48 L793.18 485.77 L793.6 487.07 L794 488.36 L794.41 489.66 L794.81 490.95 L795.21 492.25 L795.61 493.55 L796.01 494.85 L796.4 496.14 L796.79 497.44 L797.18 498.74 L797.57 500.04 L797.96 501.35 L798.34 502.65 L798.72 503.95 L799.11 505.25 L799.49 506.56 L799.86 507.86 L800.24 509.16 L800.62 510.47 L800.99 511.77 L801.37 513.08 L801.74 514.38 L802.11 515.69 L802.48 517 L802.85 518.3 L803.22 519.61 L803.59 520.91 L803.96 522.22 L804.32 523.53 L804.69 524.84 L805.06 526.14 L805.42 527.45 L805.79 528.76 L806.15 530.07 L806.52 531.37 L806.88 532.68 L807.25 533.99 L807.61 535.3 L807.98 536.6 L808.34 537.91 L808.71 539.22 L809.08 540.52 L809.44 541.83 L809.81 543.14 L810.18 544.44 L810.55 545.75 L810.92 547.05 L811.29 548.36 L811.66 549.66 L812.03 550.97 L812.4 552.27 L812.78 553.58 L813.15 554.88 L813.53 556.18 L813.91 557.49 L814.28 558.79 L814.67 560.09 L815.05 561.39 L815.43 562.69 L815.82 563.99 L816.2 565.29 L816.6 566.59 L816.99 567.88 L817.38 569.18 L817.78 570.48 L818.18 571.77 L818.59 573.06 L819 574.36 L819.41 575.65 L819.82 576.94 L820.24 578.22 L820.67 579.51 L821.09 580.8 L821.53 582.08 L821.96 583.36 L822.41 584.64 L822.85 585.92 L823.31 587.2 L823.77 588.48 L824.23 589.75 L824.7 591.02 L825.18 592.29 L825.66 593.56 L826.15 594.83 L826.64 596.09 L827.15 597.35 L827.66 598.61 L828.17 599.87 L828.7 601.13 L829.23 602.38 L829.77 603.63 L830.32 604.88 L830.87 606.12 L831.44 607.36 L832.01 608.6 L832.59 609.84 L833.19 611.08 L833.79 612.31 L834.4 613.53 L835.03 614.75 L835.67 615.96 L836.32 617.16 L836.99 618.35 L837.68 619.53 L838.39 620.7 L839.12 621.85 L839.87 622.98 L840.65 624.1 L841.45 625.2 L842.27 626.28 L843.13 627.34 L844 628.38 L844.91 629.39 L845.84 630.38 L846.79 631.35 L847.77 632.29 L848.78 633.2 L849.8 634.08 L850.85 634.93 L851.93 635.75 L853.02 636.53 L854.14 637.29 L855.28 638 L856.44 638.69 L857.62 639.33 L858.82 639.94 L860.04 640.5 L861.28 641.03 L862.54 641.52 L863.81 641.97 L865.1 642.39 L866.4 642.78 L867.71 643.14 L869.03 643.47 L870.35 643.78 L871.69 644.07 L873.02 644.34 L874.37 644.59 L875.71 644.82 L877.06 645.04 L878.42 645.24 L879.77 645.43 L881.13 645.61 L882.49 645.79 L883.85 645.95 L885.21 646.11 L886.56 646.26 L887.92 646.41 L889.28 646.55 L890.63 646.7 L891.98 646.85 L893.32 647 L894.66 647.16 L896 647.32 L897.33 647.48 L898.65 647.66 L899.97 647.85 L915 648.6 L935 649.5 L966 649.5" stroke="#17becf" stroke-dasharray="13 16.8" stroke-dashoffset="16.3"/>
<path d="M196.6 250 L196.6 582.02 L197.31 583.19 L198.04 584.36 L198.78 585.52 L199.53 586.68 L200.29 587.82 L201.07 588.96 L201.86 590.1 L202.66 591.22 L203.47 592.34 L204.3 593.45 L205.14 594.55 L205.99 595.65 L206.85 596.73 L207.73 597.81 L208.62 598.87 L209.52 599.93 L210.43 600.98 L211.35 602.01 L212.28 603.04 L213.23 604.06 L214.18 605.06 L215.15 606.06 L216.13 607.04 L217.12 608.01 L218.12 608.98 L219.13 609.92 L220.15 610.86 L221.19 611.79 L222.23 612.7 L223.28 613.6 L224.35 614.49 L225.42 615.36 L226.51 616.22 L227.6 617.06 L228.71 617.9 L229.83 618.72 L230.95 619.52 L232.09 620.31 L233.23 621.08 L234.39 621.84 L235.55 622.59 L236.72 623.31 L237.91 624.03 L239.1 624.72 L240.3 625.4 L241.51 626.07 L242.73 626.72 L243.96 627.36 L245.19 627.98 L246.43 628.59 L247.68 629.18 L248.94 629.76 L250.2 630.32 L251.47 630.88 L252.74 631.41 L254.03 631.94 L255.31 632.45 L256.6 632.95 L257.9 633.44 L259.2 633.92 L260.51 634.38 L261.82 634.83 L263.13 635.27 L264.45 635.7 L265.77 636.12 L267.1 636.52 L268.42 636.92 L269.75 637.31 L271.08 637.68 L272.42 638.05 L273.75 638.4 L275.09 638.75 L276.43 639.09 L277.78 639.41 L279.12 639.73 L280.47 640.04 L281.82 640.34 L283.17 640.63 L284.52 640.91 L285.87 641.19 L287.23 641.45 L288.58 641.71 L289.94 641.96 L291.3 642.2 L292.67 642.44 L294.03 642.67 L295.39 642.89 L296.76 643.1 L298.13 643.31 L299.5 643.5 L300.87 643.7 L302.24 643.88 L303.61 644.06 L304.98 644.24 L306.36 644.41 L307.73 644.57 L309.11 644.73 L310.48 644.88 L311.86 645.02 L313.24 645.17 L314.62 645.3 L316 645.43 L317.38 645.56 L318.76 645.68 L320.14 645.8 L321.52 645.92 L322.9 646.03 L324.28 646.13 L325.66 646.24 L327.05 646.34 L328.43 646.43 L329.81 646.53 L331.19 646.62 L332.58 646.7 L333.96 646.79 L335.34 646.87 L336.72 646.95 L338.1 647.03 L339.49 647.11 L340.87 647.18 L342.25 647.25 L343.63 647.32 L345.01 647.38 L346.39 647.45 L347.77 647.51 L349.16 647.57 L350.54 647.63 L351.92 647.68 L353.3 647.73 L354.68 647.78 L356.06 647.83 L357.44 647.88 L358.82 647.92 L360.21 647.97 L361.59 648.01 L362.97 648.04 L364.35 648.08 L365.73 648.11 L367.11 648.15 L368.49 648.18 L369.87 648.21 L371.26 648.23 L372.64 648.26 L374.02 648.28 L375.4 648.3 L376.78 648.32 L378.16 648.34 L379.55 648.35 L380.93 648.37 L382.31 648.38 L383.69 648.39 L385.08 648.4 L386.46 648.41 L387.84 648.42 L389.22 648.42 L390.61 648.43 L391.99 648.43 L393.37 648.43 L394.76 648.43 L396.14 648.43 L397.53 648.42 L398.91 648.42 L400.29 648.41 L401.68 648.4 L403.06 648.39 L404.45 648.38 L405.83 648.37 L407.22 648.36 L408.6 648.34 L409.99 648.33 L411.38 648.31 L412.76 648.29 L414.15 648.27 L415.53 648.25 L416.92 648.23 L418.3 648.21 L419.69 648.18 L421.08 648.16 L422.46 648.13 L423.85 648.1 L425.23 648.07 L426.62 648.04 L428 648 L429.39 647.97 L430.77 647.93 L432.16 647.89 L433.54 647.85 L434.93 647.81 L436.31 647.77 L437.7 647.73 L439.08 647.68 L440.46 647.64 L441.85 647.59 L443.23 647.54 L444.61 647.49 L445.99 647.44 L447.38 647.38 L448.76 647.33 L450.14 647.27 L451.52 647.21 L452.9 647.15 L454.28 647.09 L455.66 647.03 L457.04 646.96 L458.42 646.88 L459.79 646.8 L461.17 646.72 L462.55 646.63 L463.92 646.53 L465.3 646.43 L466.67 646.32 L468.05 646.2 L469.42 646.07 L470.79 645.94 L472.16 645.79 L473.53 645.64 L474.9 645.47 L476.27 645.29 L477.64 645.1 L479.01 644.9 L480.37 644.69 L481.74 644.46 L483.1 644.22 L484.46 643.96 L485.82 643.69 L487.19 643.4 L488.54 643.1 L489.9 642.78 L491.26 642.44 L492.61 642.09 L493.97 641.71 L495.31 641.32 L496.66 640.91 L497.99 640.48 L499.32 640.03 L500.64 639.56 L501.95 639.07 L503.26 638.56 L504.55 638.02 L505.83 637.47 L507.09 636.89 L508.35 636.29 L509.58 635.66 L510.8 635.01 L512.01 634.33 L513.19 633.63 L514.36 632.91 L515.51 632.16 L516.63 631.38 L517.74 630.57 L518.82 629.74 L519.88 628.88 L520.91 627.99 L521.92 627.08 L522.9 626.13 L523.86 625.17 L524.8 624.17 L525.72 623.16 L526.61 622.12 L527.48 621.06 L528.33 619.97 L529.16 618.87 L529.97 617.75 L530.76 616.61 L531.53 615.46 L532.28 614.29 L533.01 613.11 L533.73 611.91 L534.43 610.7 L535.11 609.47 L535.78 608.24 L536.43 607 L537.06 605.75 L537.69 604.49 L538.29 603.22 L538.89 601.95 L539.47 600.67 L540.03 599.39 L540.59 598.11 L541.13 596.82 L541.67 595.53 L542.19 594.24 L542.7 592.94 L543.19 591.64 L543.68 590.34 L544.16 589.04 L544.63 587.73 L545.09 586.43 L545.54 585.12 L545.98 583.8 L546.41 582.49 L546.83 581.17 L547.25 579.85 L547.66 578.53 L548.06 577.21 L548.45 575.88 L548.83 574.55 L549.21 573.22 L549.59 571.89 L549.95 570.56 L550.31 569.23 L550.67 567.89 L551.02 566.56 L551.36 565.22 L551.7 563.88 L552.04 562.54 L552.37 561.2 L552.7 559.86 L553.02 558.51 L553.34 557.17 L553.66 555.83 L553.97 554.48 L554.29 553.13 L554.6 551.79 L554.91 550.44 L555.21 549.09 L555.52 547.75 L555.82 546.4 L556.13 545.05 L556.43 543.7 L556.74 542.35 L557.04 541.01 L557.35 539.66 L557.65 538.31 L557.96 536.96 L558.27 535.62 L558.58 534.27 L558.89 532.92 L559.2 531.58 L559.52 530.23 L559.84 528.89 L560.16 527.55 L560.48 526.2 L560.81 524.86 L561.14 523.52 L561.48 522.18 L561.82 520.84 L562.16 519.5 L562.51 518.16 L562.85 516.83 L563.2 515.49 L563.56 514.16 L563.91 512.82 L564.27 511.49 L564.63 510.15 L564.99 508.82 L565.36 507.49 L565.73 506.15 L566.1 504.82 L566.47 503.49 L566.84 502.16 L567.21 500.83 L567.59 499.5 L567.97 498.17 L568.35 496.84 L568.73 495.51 L569.11 494.18 L569.5 492.85 L569.88 491.52 L570.27 490.19 L570.65 488.86 L571.04 487.53 L571.43 486.2 L571.82 484.88 L572.21 483.55 L572.6 482.22 L572.99 480.89 L573.38 479.56 L573.77 478.23 L574.16 476.9 L574.55 475.57 L574.94 474.24 L575.33 472.91 L575.72 471.58 L576.11 470.25 L576.5 468.92 L576.89 467.59 L577.28 466.26 L577.66 464.93 L578.05 463.6 L578.44 462.26 L578.82 460.93 L579.21 459.6 L579.59 458.26 L579.98 456.93 L580.37 455.6 L580.75 454.27 L581.14 452.93 L581.53 451.6 L581.92 450.27 L582.31 448.94 L582.7 447.61 L583.09 446.28 L583.49 444.95 L583.89 443.62 L584.28 442.29 L584.68 440.96 L585.09 439.64 L585.49 438.31 L585.9 436.99 L586.31 435.66 L586.72 434.34 L587.14 433.02 L587.56 431.7 L587.98 430.38 L588.41 429.07 L588.84 427.75 L589.27 426.44 L589.71 425.13 L590.15 423.82 L590.6 422.51 L591.05 421.2 L591.51 419.9 L591.97 418.59 L592.43 417.29 L592.91 416 L593.38 414.7 L593.86 413.41 L594.35 412.12 L594.84 410.83 L595.34 409.54 L595.85 408.26 L596.36 406.98 L596.88 405.7 L597.4 404.43 L597.93 403.16 L598.47 401.89 L599.02 400.62 L599.57 399.36 L600.13 398.1 L600.7 396.84 L601.27 395.59 L601.85 394.34 L602.44 393.09 L603.04 391.85 L603.65 390.61 L604.27 389.38 L604.89 388.15 L605.53 386.92 L606.17 385.69 L606.82 384.47 L607.48 383.26 L608.15 382.05 L608.83 380.84 L609.53 379.64 L610.23 378.45 L610.94 377.26 L611.67 376.08 L612.41 374.9 L613.16 373.74 L613.92 372.58 L614.7 371.43 L615.49 370.3 L616.3 369.17 L617.12 368.05 L617.96 366.94 L618.81 365.85 L619.68 364.77 L620.56 363.7 L621.47 362.64 L622.39 361.6 L623.32 360.58 L624.28 359.56 L625.26 358.57 L626.25 357.59 L627.27 356.62 L628.3 355.68 L629.35 354.75 L630.42 353.85 L631.51 352.97 L632.62 352.11 L633.74 351.28 L634.88 350.47 L636.04 349.7 L637.21 348.95 L638.4 348.24 L639.6 347.56 L640.82 346.92 L642.05 346.31 L643.29 345.74 L644.55 345.2 L645.83 344.71 L647.11 344.26 L648.41 343.85 L649.72 343.48 L651.04 343.14 L652.37 342.84 L653.7 342.58 L655.05 342.35 L656.4 342.15 L657.76 341.98 L659.13 341.85 L660.5 341.74 L661.87 341.66 L663.25 341.61 L664.63 341.58 L666.02 341.58 L667.4 341.6 L668.79 341.65 L670.18 341.72 L671.56 341.81 L672.95 341.92 L674.34 342.06 L675.72 342.22 L677.11 342.39 L678.49 342.6 L679.87 342.82 L681.24 343.06 L682.62 343.33 L683.99 343.62 L685.35 343.92 L686.71 344.25 L688.07 344.6 L689.42 344.97 L690.77 345.36 L692.1 345.77 L693.44 346.2 L694.76 346.65 L696.08 347.12 L697.39 347.61 L698.7 348.12 L699.99 348.65 L701.27 349.2 L702.55 349.76 L703.82 350.35 L705.07 350.95 L706.32 351.57 L707.55 352.21 L708.77 352.87 L709.98 353.55 L711.18 354.24 L712.37 354.95 L713.54 355.68 L714.7 356.43 L715.84 357.19 L716.97 357.97 L718.09 358.77 L719.19 359.58 L720.28 360.41 L721.36 361.26 L722.42 362.12 L723.47 362.99 L724.51 363.88 L725.53 364.79 L726.55 365.7 L727.55 366.64 L728.54 367.58 L729.51 368.54 L730.48 369.51 L731.43 370.49 L732.38 371.49 L733.31 372.49 L734.23 373.51 L735.14 374.54 L736.04 375.58 L736.93 376.63 L737.81 377.69 L738.68 378.76 L739.54 379.83 L740.4 380.92 L741.24 382.02 L742.07 383.12 L742.9 384.24 L743.71 385.36 L744.52 386.48 L745.32 387.62 L746.11 388.76 L746.89 389.91 L747.67 391.06 L748.44 392.22 L749.2 393.39 L749.95 394.56 L750.7 395.73 L751.44 396.91 L752.18 398.1 L752.91 399.28 L753.63 400.47 L754.34 401.67 L755.06 402.86 L755.76 404.06 L756.46 405.27 L757.15 406.47 L757.84 407.68 L758.53 408.89 L759.2 410.1 L759.88 411.31 L760.54 412.53 L761.21 413.75 L761.86 414.97 L762.52 416.2 L763.16 417.42 L763.8 418.65 L764.44 419.88 L765.07 421.12 L765.7 422.35 L766.32 423.59 L766.94 424.83 L767.55 426.07 L768.16 427.32 L768.76 428.56 L769.36 429.81 L769.96 431.06 L770.54 432.32 L771.13 433.57 L771.71 434.83 L772.29 436.08 L772.86 437.34 L773.42 438.61 L773.99 439.87 L774.55 441.14 L775.1 442.4 L775.65 443.67 L776.2 444.94 L776.74 446.22 L777.28 447.49 L777.81 448.77 L778.34 450.04 L778.87 451.32 L779.39 452.6 L779.91 453.88 L780.43 455.17 L780.94 456.45 L781.45 457.74 L781.95 459.03 L782.45 460.32 L782.95 461.61 L783.44 462.9 L783.93 464.19 L784.42 465.48 L784.9 466.78 L785.38 468.08 L785.86 469.37 L786.34 470.67 L786.81 471.97 L787.27 473.27 L787.74 474.58 L788.2 475.88 L788.66 477.18 L789.11 478.49 L789.57 479.79 L790.02 481.1 L790.46 482.41 L790.91 483.72 L791.35 485.03 L791.79 486.34 L792.22 487.65 L792.66 488.96 L793.09 490.27 L793.52 491.58 L793.94 492.9 L794.37 494.21 L794.79 495.53 L795.21 496.84 L795.63 498.16 L796.05 499.47 L796.46 500.79 L796.87 502.11 L797.28 503.43 L797.69 504.75 L798.1 506.07 L798.51 507.39 L798.91 508.71 L799.31 510.03 L799.72 511.35 L800.12 512.67 L800.52 513.99 L800.91 515.32 L801.31 516.64 L801.71 517.96 L802.1 519.29 L802.5 520.61 L802.89 521.94 L803.28 523.26 L803.68 524.59 L804.07 525.91 L804.46 527.24 L804.85 528.57 L805.24 529.89 L805.63 531.22 L806.02 532.55 L806.41 533.87 L806.8 535.2 L807.19 536.53 L807.58 537.86 L807.97 539.18 L808.36 540.51 L808.75 541.84 L809.14 543.17 L809.53 544.5 L809.93 545.82 L810.32 547.15 L810.71 548.48 L811.1 549.81 L811.5 551.14 L811.89 552.46 L812.29 553.79 L812.69 555.12 L813.09 556.45 L813.49 557.77 L813.89 559.1 L814.29 560.43 L814.69 561.76 L815.1 563.08 L815.5 564.41 L815.91 565.74 L816.32 567.06 L816.73 568.39 L817.14 569.72 L817.56 571.04 L817.97 572.37 L818.39 573.69 L818.81 575.02 L819.23 576.34 L819.66 577.66 L820.08 578.99 L820.51 580.31 L820.94 581.63 L821.38 582.96 L821.82 584.28 L822.26 585.6 L822.7 586.92 L823.16 588.23 L823.61 589.54 L824.08 590.85 L824.54 592.16 L825.02 593.47 L825.51 594.77 L826 596.06 L826.5 597.36 L827.01 598.64 L827.53 599.93 L828.06 601.2 L828.6 602.47 L829.15 603.74 L829.71 605 L830.29 606.25 L830.88 607.5 L831.48 608.74 L832.09 609.97 L832.72 611.19 L833.37 612.41 L834.02 613.61 L834.7 614.81 L835.39 616 L836.1 617.18 L836.82 618.35 L837.57 619.51 L838.33 620.66 L839.11 621.79 L839.91 622.92 L840.73 624.04 L841.57 625.14 L842.43 626.23 L843.31 627.31 L844.22 628.37 L845.14 629.42 L846.09 630.44 L847.06 631.44 L848.05 632.42 L849.07 633.37 L850.1 634.3 L851.16 635.19 L852.25 636.04 L853.35 636.87 L854.48 637.65 L855.64 638.39 L856.81 639.09 L858.01 639.75 L859.24 640.35 L860.49 640.91 L861.76 641.42 L863.06 641.88 L864.37 642.3 L865.7 642.68 L867.05 643.03 L868.41 643.35 L869.77 643.63 L871.15 643.9 L872.54 644.14 L873.92 644.37 L875.31 644.59 L876.7 644.8 L878.09 645 L879.47 645.2 L880.85 645.41 L882.22 645.61 L883.58 645.82 L884.94 646.03 L886.3 646.24 L887.66 646.44 L889.01 646.64 L890.37 646.83 L891.72 647.01 L893.08 647.18 L894.45 647.34 L895.82 647.48 L897.2 647.61 L898.59 647.72 L899.99 647.82 L915 648.6 L935 649.5 L966 649.5" stroke="#2ca02c" stroke-linejoin="miter"/>
</g>
<path d="M196.6 657.2 v14.6 M378.48 657.2 v14.6 M560.35 657.2 v14.6 M742.23 657.2 v14.6 M924.1 657.2 v14.6 M176.5 649.5 h-14.6 M176.5 461.25 h-14.6 M176.5 273 h-14.6" stroke="#000" stroke-width="3.7" fill="none"/>
<rect x="178.6" y="273" width="781.7" height="382.1" fill="none" stroke="#000" stroke-width="4.2"/>
</g>
<g id="schematic">
<g stroke="#000" stroke-width="1.7" fill="none" stroke-dasharray="12.5 12.5">
<path d="M138 798.4 L196.6 657"/>
<path d="M896.83 798.05 L931.2 722.4"/>
<path d="M946.8 689 L958.5 661"/>
<path d="M88.6 926.4 L221.7 1011.35"/>
<path d="M138.2 926.4 L916.7 1011.8"/>
</g>
<path d="M14.4 812.5 H1009.5" stroke="#000" stroke-width="1.7" fill="none"/>
<path d="M1001 802.2 C1002.6 807.5 1006 811 1010.3 812.5 C1006 814 1002.6 817.5 1001 822.9" stroke="#000" stroke-width="1.7" fill="none" stroke-linecap="round" stroke-linejoin="round"/>
<rect x="14.4" y="831.4" width="123.6" height="95" fill="#b0b0b0" stroke="#3a3a40" stroke-width="1.5"/>
<rect x="138" y="831.4" width="361.4" height="95" fill="#cacf85" stroke="#3a3a40" stroke-width="1.5"/>
<rect x="499.4" y="831.4" width="253.4" height="95" fill="#9fcfe6" stroke="#3a3a40" stroke-width="1.5"/>
<rect x="752.8" y="831.4" width="143.9" height="95" fill="#cacf85" stroke="#3a3a40" stroke-width="1.5"/>
<path d="M896.7 831.4 H1010.5 L1021 840.9 L1000 859.8 L1021 878.8 L1000 897.8 L1021 916.8 L1010.5 926.4 H896.7 Z" fill="#ae8799" stroke="#111" stroke-width="1.5" stroke-linejoin="miter"/>
<path d="M138 803 V831 M499.4 803 V831 M752.8 803 V831 M896.7 803 V831" stroke="#000" stroke-width="1.7" fill="none"/>
<path d="M138 831.5 H896.7 M88.5 926.4 H138.2" stroke="#000" stroke-width="6.7" fill="none"/>
</g>
<g id="botaxes">
<g clip-path="url(#cb)" fill="none" stroke-width="4.2" stroke-linejoin="round">
<path d="M225.1 1038.4 L226.41 1038.4 L227.73 1038.4 L229.04 1038.4 L230.36 1038.4 L231.67 1038.4 L232.99 1038.4 L234.3 1038.4 L235.62 1038.4 L236.93 1038.4 L238.24 1038.4 L239.56 1038.4 L240.87 1038.4 L242.19 1038.4 L243.5 1038.4 L244.82 1038.4 L246.13 1038.4 L247.45 1038.4 L248.76 1038.4 L250.07 1038.4 L251.39 1038.4 L252.7 1038.4 L254.02 1038.4 L255.33 1038.4 L256.65 1038.4 L257.96 1038.4 L259.28 1038.4 L260.59 1038.4 L261.9 1038.4 L263.22 1038.4 L264.53 1038.4 L265.85 1038.4 L267.16 1038.4 L268.48 1038.4 L269.79 1038.4 L271.11 1038.4 L272.42 1038.4 L273.73 1038.4 L275.05 1038.4 L276.36 1038.4 L277.68 1038.4 L278.99 1038.4 L280.31 1038.4 L281.62 1038.4 L282.93 1038.4 L284.25 1038.4 L285.56 1038.4 L286.88 1038.4 L288.19 1038.4 L289.51 1038.4 L290.82 1038.4 L292.14 1038.4 L293.45 1038.4 L294.76 1038.4 L296.08 1038.4 L297.39 1038.4 L298.71 1038.4 L300.02 1038.4 L301.34 1038.4 L302.65 1038.4 L303.97 1038.4 L305.28 1038.4 L306.59 1038.4 L307.91 1038.4 L309.22 1038.4 L310.54 1038.4 L311.85 1038.4 L313.17 1038.4 L314.48 1038.4 L315.8 1038.4 L317.11 1038.4 L318.42 1038.4 L319.74 1038.4 L321.05 1038.4 L322.37 1038.4 L323.68 1038.4 L325 1038.4 L326.31 1038.4 L327.63 1038.4 L328.94 1038.4 L330.25 1038.4 L331.57 1038.4 L332.88 1038.4 L334.2 1038.4 L335.51 1038.4 L336.83 1038.4 L338.14 1038.4 L339.46 1038.4 L340.77 1038.4 L342.08 1038.4 L343.4 1038.4 L344.71 1038.4 L346.03 1038.4 L347.34 1038.4 L348.66 1038.4 L349.97 1038.4 L351.29 1038.4 L352.6 1038.4 L353.91 1038.4 L355.23 1038.4 L356.54 1038.4 L357.86 1038.4 L359.17 1038.4 L360.49 1038.4 L361.8 1038.4 L363.12 1038.4 L364.43 1038.4 L365.74 1038.4 L367.06 1038.4 L368.37 1038.4 L369.69 1038.4 L371 1038.4 L372.32 1038.4 L373.63 1038.4 L374.94 1038.4 L376.26 1038.4 L377.57 1038.4 L378.89 1038.4 L380.2 1038.4 L381.52 1038.4 L382.83 1038.4 L384.15 1038.4 L385.46 1038.4 L386.77 1038.4 L388.09 1038.4 L389.4 1038.4 L390.72 1038.4 L392.03 1038.4 L393.35 1038.4 L394.66 1038.4 L395.98 1038.4 L397.29 1038.4 L398.6 1038.4 L399.92 1038.4 L401.23 1038.4 L402.55 1038.4 L403.86 1038.4 L405.18 1038.4 L406.49 1038.4 L407.81 1038.4 L409.12 1038.4 L410.43 1038.4 L411.75 1038.4 L413.06 1038.4 L414.38 1038.4 L415.69 1038.4 L417.01 1038.4 L418.32 1038.4 L419.64 1038.4 L420.95 1038.4 L422.26 1038.4 L423.58 1038.4 L424.89 1038.4 L426.21 1038.4 L427.52 1038.4 L428.84 1038.4 L430.15 1038.4 L431.47 1038.4 L432.78 1038.4 L434.09 1038.4 L435.41 1038.4 L436.72 1038.4 L438.04 1038.4 L439.35 1038.4 L440.67 1038.4 L441.98 1038.4 L443.3 1038.4 L444.61 1038.4 L445.92 1038.4 L447.24 1038.4 L448.55 1038.4 L449.87 1038.4 L451.18 1038.4 L452.5 1038.4 L453.81 1038.4 L455.13 1038.4 L456.44 1038.4 L457.75 1038.4 L459.07 1038.4 L460.38 1038.4 L461.7 1038.4 L463.01 1038.4 L464.33 1038.4 L465.64 1038.4 L466.95 1038.4 L468.27 1038.4 L469.58 1038.4 L470.9 1038.4 L472.21 1038.4 L473.53 1038.4 L474.84 1038.4 L476.16 1038.4 L477.47 1038.4 L478.78 1038.4 L480.1 1038.4 L481.41 1038.4 L482.73 1038.4 L484.04 1038.4 L485.36 1038.4 L486.67 1038.4 L487.99 1038.4 L489.3 1038.4 L490.61 1038.4 L491.93 1038.4 L493.24 1038.4 L494.56 1038.4 L495.87 1038.4 L497.19 1038.4 L498.5 1038.4 L499.82 1038.4 L501.13 1038.4 L502.44 1038.4 L503.76 1038.4 L505.07 1038.4 L506.39 1038.4 L507.7 1038.4 L509.02 1038.4 L510.33 1038.4 L511.65 1038.4 L512.96 1038.4 L514.27 1038.4 L515.59 1038.4 L516.9 1038.4 L518.22 1038.4 L519.53 1038.4 L520.85 1038.4 L522.16 1038.4 L523.48 1038.4 L524.79 1038.4 L526.1 1038.4 L527.42 1038.4 L528.73 1038.4 L530.05 1038.4 L531.36 1038.4 L532.68 1038.4 L533.99 1038.4 L535.31 1038.4 L536.62 1038.4 L537.93 1038.4 L539.25 1038.4 L540.56 1038.4 L541.88 1038.4 L543.19 1038.4 L544.51 1038.4 L545.82 1038.4 L547.14 1038.4 L548.45 1038.4 L549.76 1038.4 L551.08 1038.4 L552.39 1038.4 L553.71 1038.4 L555.02 1038.4 L556.34 1038.4 L557.65 1038.4 L558.96 1038.4 L560.28 1038.4 L561.59 1038.4 L562.91 1038.4 L564.22 1038.4 L565.54 1038.4 L566.85 1038.4 L568.17 1038.4 L569.48 1038.4 L570.79 1038.4 L572.11 1038.4 L573.42 1038.4 L574.74 1038.4 L576.05 1038.4 L577.37 1038.4 L578.68 1038.4 L580 1038.4 L581.31 1038.4 L582.62 1038.4 L583.94 1038.4 L585.25 1038.4 L586.57 1038.4 L587.88 1038.4 L589.2 1038.4 L590.51 1038.4 L591.83 1038.4 L593.14 1038.4 L594.45 1038.4 L595.77 1038.4 L597.08 1038.4 L598.4 1038.4 L599.71 1038.4 L601.03 1038.4 L602.34 1038.4 L603.66 1038.4 L604.97 1038.4 L606.28 1038.4 L607.6 1038.4 L608.91 1038.4 L610.23 1038.4 L611.54 1038.4 L612.86 1038.4 L614.17 1038.4 L615.49 1038.41 L616.8 1038.41 L618.11 1038.41 L619.43 1038.41 L620.74 1038.41 L622.06 1038.41 L623.37 1038.41 L624.69 1038.41 L626 1038.41 L627.32 1038.41 L628.63 1038.41 L629.94 1038.41 L631.26 1038.41 L632.57 1038.41 L633.89 1038.41 L635.2 1038.41 L636.52 1038.42 L637.83 1038.42 L639.15 1038.42 L640.46 1038.42 L641.77 1038.42 L643.09 1038.42 L644.4 1038.42 L645.72 1038.42 L647.03 1038.43 L648.35 1038.43 L649.66 1038.43 L650.97 1038.43 L652.29 1038.43 L653.6 1038.44 L654.92 1038.44 L656.23 1038.44 L657.55 1038.44 L658.86 1038.45 L660.18 1038.45 L661.49 1038.45 L662.8 1038.46 L664.12 1038.46 L665.43 1038.46 L666.75 1038.47 L668.06 1038.47 L669.38 1038.48 L670.69 1038.48 L672.01 1038.49 L673.32 1038.49 L674.63 1038.5 L675.95 1038.51 L677.26 1038.51 L678.58 1038.52 L679.89 1038.53 L681.21 1038.54 L682.52 1038.55 L683.84 1038.55 L685.15 1038.56 L686.46 1038.58 L687.78 1038.59 L689.09 1038.6 L690.41 1038.61 L691.72 1038.62 L693.04 1038.64 L694.35 1038.65 L695.67 1038.67 L696.98 1038.68 L698.29 1038.7 L699.61 1038.72 L700.92 1038.74 L702.24 1038.76 L703.55 1038.78 L704.87 1038.8 L706.18 1038.83 L707.5 1038.85 L708.81 1038.88 L710.12 1038.91 L711.44 1038.94 L712.75 1038.97 L714.07 1039 L715.38 1039.04 L716.7 1039.08 L718.01 1039.12 L719.33 1039.16 L720.64 1039.2 L721.95 1039.25 L723.27 1039.3 L724.58 1039.35 L725.9 1039.4 L727.21 1039.46 L728.53 1039.52 L729.84 1039.58 L731.16 1039.65 L732.47 1039.72 L733.78 1039.8 L735.1 1039.87 L736.41 1039.96 L737.73 1040.04 L739.04 1040.13 L740.36 1040.23 L741.67 1040.33 L742.98 1040.44 L744.3 1040.55 L745.61 1040.67 L746.93 1040.79 L748.24 1040.92 L749.56 1041.06 L750.87 1041.2 L752.19 1041.35 L753.5 1041.51 L754.81 1041.68 L756.13 1041.85 L757.44 1042.04 L758.76 1042.23 L760.07 1042.43 L761.39 1042.64 L762.7 1042.87 L764.02 1043.1 L765.33 1043.35 L766.64 1043.6 L767.96 1043.87 L769.27 1044.15 L770.59 1044.45 L771.9 1044.76 L773.22 1045.08 L774.53 1045.42 L775.85 1045.78 L777.16 1046.15 L778.47 1046.54 L779.79 1046.95 L781.1 1047.38 L782.42 1047.83 L783.73 1048.3 L785.05 1048.79 L786.36 1049.3 L787.68 1049.84 L788.99 1050.4 L790.3 1050.98 L791.62 1051.6 L792.93 1052.24 L794.25 1052.9 L795.56 1053.6 L796.88 1054.33 L798.19 1055.09 L799.51 1055.89 L800.82 1056.72 L802.13 1057.58 L803.45 1058.48 L804.76 1059.43 L806.08 1060.41 L807.39 1061.43 L808.71 1062.5 L810.02 1063.62 L811.34 1064.78 L812.65 1065.99 L813.96 1067.25 L815.28 1068.56 L816.59 1069.93 L817.91 1071.36 L819.22 1072.84 L820.54 1074.39 L821.85 1075.99 L823.17 1077.67 L824.48 1079.41 L825.79 1081.22 L827.11 1083.1 L828.42 1085.06 L829.74 1087.09 L831.05 1089.21 L832.37 1091.41 L833.68 1093.69 L834.99 1096.07 L836.31 1098.54 L837.62 1101.1 L838.94 1103.76 L840.25 1106.52 L841.57 1109.38 L842.88 1112.36 L844.2 1115.45 L845.51 1118.65 L846.82 1121.97 L848.14 1125.42 L849.45 1128.99 L850.77 1132.69 L852.08 1136.53 L853.4 1140.51 L854.71 1144.63 L856.03 1148.9 L857.34 1153.32 L858.65 1157.9 L859.97 1162.64 L861.28 1167.54 L862.6 1172.62 L863.91 1177.88 L865.23 1183.31 L866.54 1188.94 L867.86 1194.76 L869.17 1200.77 L870.48 1206.99 L871.8 1213.42 L873.11 1220.06 L874.43 1226.92 L875.74 1234.01 L877.06 1241.34 L878.37 1248.9 L879.69 1256.71 L881 1264.77" stroke="#ff7f0e"/>
<path d="M225.1 1038.4 L226.42 1038.4 L227.73 1038.4 L229.05 1038.4 L230.36 1038.4 L231.68 1038.4 L232.99 1038.4 L234.31 1038.4 L235.63 1038.4 L236.94 1038.4 L238.26 1038.4 L239.57 1038.4 L240.89 1038.4 L242.21 1038.4 L243.52 1038.4 L244.84 1038.4 L246.15 1038.4 L247.47 1038.4 L248.78 1038.4 L250.1 1038.4 L251.42 1038.4 L252.73 1038.4 L254.05 1038.4 L255.36 1038.4 L256.68 1038.4 L258 1038.4 L259.31 1038.4 L260.63 1038.4 L261.94 1038.4 L263.26 1038.4 L264.57 1038.4 L265.89 1038.4 L267.21 1038.4 L268.52 1038.4 L269.84 1038.4 L271.15 1038.4 L272.47 1038.4 L273.79 1038.4 L275.1 1038.4 L276.42 1038.4 L277.73 1038.4 L279.05 1038.4 L280.36 1038.4 L281.68 1038.4 L283 1038.4 L284.31 1038.4 L285.63 1038.4 L286.94 1038.4 L288.26 1038.4 L289.58 1038.4 L290.89 1038.4 L292.21 1038.4 L293.52 1038.4 L294.84 1038.4 L296.15 1038.4 L297.47 1038.4 L298.79 1038.4 L300.1 1038.4 L301.42 1038.4 L302.73 1038.4 L304.05 1038.4 L305.37 1038.4 L306.68 1038.4 L308 1038.4 L309.31 1038.4 L310.63 1038.4 L311.94 1038.4 L313.26 1038.4 L314.58 1038.4 L315.89 1038.4 L317.21 1038.4 L318.52 1038.4 L319.84 1038.4 L321.16 1038.4 L322.47 1038.4 L323.79 1038.4 L325.1 1038.4 L326.42 1038.4 L327.73 1038.4 L329.05 1038.4 L330.37 1038.4 L331.68 1038.4 L333 1038.4 L334.31 1038.4 L335.63 1038.4 L336.95 1038.4 L338.26 1038.4 L339.58 1038.4 L340.89 1038.4 L342.21 1038.4 L343.52 1038.4 L344.84 1038.4 L346.16 1038.4 L347.47 1038.4 L348.79 1038.4 L350.1 1038.4 L351.42 1038.4 L352.74 1038.4 L354.05 1038.4 L355.37 1038.4 L356.68 1038.4 L358 1038.4 L359.31 1038.4 L360.63 1038.4 L361.95 1038.4 L363.26 1038.4 L364.58 1038.4 L365.89 1038.4 L367.21 1038.4 L368.53 1038.4 L369.84 1038.4 L371.16 1038.4 L372.47 1038.4 L373.79 1038.4 L375.1 1038.4 L376.42 1038.4 L377.74 1038.4 L379.05 1038.4 L380.37 1038.4 L381.68 1038.4 L383 1038.4 L384.32 1038.4 L385.63 1038.4 L386.95 1038.4 L388.26 1038.4 L389.58 1038.4 L390.89 1038.4 L392.21 1038.4 L393.53 1038.4 L394.84 1038.4 L396.16 1038.4 L397.47 1038.4 L398.79 1038.4 L400.11 1038.4 L401.42 1038.4 L402.74 1038.4 L404.05 1038.4 L405.37 1038.4 L406.68 1038.4 L408 1038.4 L409.32 1038.4 L410.63 1038.4 L411.95 1038.4 L413.26 1038.4 L414.58 1038.4 L415.9 1038.4 L417.21 1038.4 L418.53 1038.4 L419.84 1038.4 L421.16 1038.4 L422.47 1038.4 L423.79 1038.4 L425.11 1038.4 L426.42 1038.4 L427.74 1038.4 L429.05 1038.4 L430.37 1038.4 L431.69 1038.4 L433 1038.4 L434.32 1038.4 L435.63 1038.4 L436.95 1038.4 L438.26 1038.4 L439.58 1038.4 L440.9 1038.4 L442.21 1038.4 L443.53 1038.4 L444.84 1038.4 L446.16 1038.4 L447.48 1038.4 L448.79 1038.4 L450.11 1038.4 L451.42 1038.4 L452.74 1038.4 L454.05 1038.4 L455.37 1038.4 L456.69 1038.4 L458 1038.4 L459.32 1038.4 L460.63 1038.4 L461.95 1038.4 L463.27 1038.4 L464.58 1038.4 L465.9 1038.4 L467.21 1038.4 L468.53 1038.4 L469.84 1038.4 L471.16 1038.4 L472.48 1038.4 L473.79 1038.4 L475.11 1038.4 L476.42 1038.4 L477.74 1038.4 L479.06 1038.4 L480.37 1038.4 L481.69 1038.4 L483 1038.4 L484.32 1038.4 L485.63 1038.4 L486.95 1038.4 L488.27 1038.4 L489.58 1038.4 L490.9 1038.4 L492.21 1038.4 L493.53 1038.4 L494.85 1038.4 L496.16 1038.4 L497.48 1038.4 L498.79 1038.4 L500.11 1038.4 L501.42 1038.4 L502.74 1038.4 L504.06 1038.4 L505.37 1038.4 L506.69 1038.4 L508 1038.4 L509.32 1038.4 L510.64 1038.4 L511.95 1038.4 L513.27 1038.4 L514.58 1038.4 L515.9 1038.4 L517.21 1038.4 L518.53 1038.4 L519.85 1038.4 L521.16 1038.4 L522.48 1038.4 L523.79 1038.4 L525.11 1038.4 L526.43 1038.4 L527.74 1038.4 L529.06 1038.4 L530.37 1038.4 L531.69 1038.4 L533 1038.4 L534.32 1038.4 L535.64 1038.4 L536.95 1038.4 L538.27 1038.4 L539.58 1038.4 L540.9 1038.4 L542.22 1038.4 L543.53 1038.4 L544.85 1038.4 L546.16 1038.4 L547.48 1038.4 L548.79 1038.4 L550.11 1038.4 L551.43 1038.4 L552.74 1038.4 L554.06 1038.41 L555.37 1038.41 L556.69 1038.41 L558.01 1038.41 L559.32 1038.41 L560.64 1038.41 L561.95 1038.41 L563.27 1038.41 L564.58 1038.41 L565.9 1038.41 L567.22 1038.41 L568.53 1038.41 L569.85 1038.41 L571.16 1038.41 L572.48 1038.41 L573.8 1038.41 L575.11 1038.41 L576.43 1038.41 L577.74 1038.41 L579.06 1038.41 L580.37 1038.41 L581.69 1038.41 L583.01 1038.41 L584.32 1038.41 L585.64 1038.41 L586.95 1038.41 L588.27 1038.41 L589.59 1038.42 L590.9 1038.42 L592.22 1038.42 L593.53 1038.42 L594.85 1038.42 L596.16 1038.42 L597.48 1038.42 L598.8 1038.42 L600.11 1038.42 L601.43 1038.42 L602.74 1038.42 L604.06 1038.42 L605.38 1038.43 L606.69 1038.43 L608.01 1038.43 L609.32 1038.43 L610.64 1038.43 L611.95 1038.43 L613.27 1038.43 L614.59 1038.43 L615.9 1038.43 L617.22 1038.44 L618.53 1038.44 L619.85 1038.44 L621.17 1038.44 L622.48 1038.44 L623.8 1038.44 L625.11 1038.45 L626.43 1038.45 L627.74 1038.45 L629.06 1038.45 L630.38 1038.45 L631.69 1038.46 L633.01 1038.46 L634.32 1038.46 L635.64 1038.46 L636.96 1038.47 L638.27 1038.47 L639.59 1038.47 L640.9 1038.47 L642.22 1038.48 L643.53 1038.48 L644.85 1038.48 L646.17 1038.49 L647.48 1038.49 L648.8 1038.5 L650.11 1038.5 L651.43 1038.5 L652.75 1038.51 L654.06 1038.51 L655.38 1038.52 L656.69 1038.52 L658.01 1038.53 L659.32 1038.53 L660.64 1038.54 L661.96 1038.54 L663.27 1038.55 L664.59 1038.56 L665.9 1038.56 L667.22 1038.57 L668.54 1038.58 L669.85 1038.58 L671.17 1038.59 L672.48 1038.6 L673.8 1038.61 L675.11 1038.61 L676.43 1038.62 L677.75 1038.63 L679.06 1038.64 L680.38 1038.65 L681.69 1038.66 L683.01 1038.67 L684.33 1038.68 L685.64 1038.7 L686.96 1038.71 L688.27 1038.72 L689.59 1038.73 L690.9 1038.75 L692.22 1038.76 L693.54 1038.78 L694.85 1038.79 L696.17 1038.81 L697.48 1038.83 L698.8 1038.84 L700.12 1038.86 L701.43 1038.88 L702.75 1038.9 L704.06 1038.92 L705.38 1038.94 L706.69 1038.97 L708.01 1038.99 L709.33 1039.01 L710.64 1039.04 L711.96 1039.07 L713.27 1039.09 L714.59 1039.12 L715.91 1039.15 L717.22 1039.18 L718.54 1039.21 L719.85 1039.25 L721.17 1039.28 L722.48 1039.32 L723.8 1039.36 L725.12 1039.4 L726.43 1039.44 L727.75 1039.48 L729.06 1039.53 L730.38 1039.57 L731.7 1039.62 L733.01 1039.67 L734.33 1039.72 L735.64 1039.78 L736.96 1039.84 L738.27 1039.89 L739.59 1039.96 L740.91 1040.02 L742.22 1040.09 L743.54 1040.16 L744.85 1040.23 L746.17 1040.3 L747.49 1040.38 L748.8 1040.47 L750.12 1040.55 L751.43 1040.64 L752.75 1040.73 L754.06 1040.83 L755.38 1040.93 L756.7 1041.03 L758.01 1041.14 L759.33 1041.25 L760.64 1041.37 L761.96 1041.49 L763.28 1041.62 L764.59 1041.76 L765.91 1041.89 L767.22 1042.04 L768.54 1042.19 L769.85 1042.34 L771.17 1042.51 L772.49 1042.68 L773.8 1042.85 L775.12 1043.04 L776.43 1043.23 L777.75 1043.43 L779.07 1043.64 L780.38 1043.85 L781.7 1044.08 L783.01 1044.31 L784.33 1044.55 L785.64 1044.81 L786.96 1045.07 L788.28 1045.35 L789.59 1045.64 L790.91 1045.93 L792.22 1046.24 L793.54 1046.57 L794.86 1046.91 L796.17 1047.26 L797.49 1047.62 L798.8 1048 L800.12 1048.4 L801.43 1048.81 L802.75 1049.24 L804.07 1049.69 L805.38 1050.16 L806.7 1050.64 L808.01 1051.15 L809.33 1051.67 L810.65 1052.22 L811.96 1052.79 L813.28 1053.38 L814.59 1054 L815.91 1054.65 L817.22 1055.32 L818.54 1056.01 L819.86 1056.74 L821.17 1057.5 L822.49 1058.29 L823.8 1059.11 L825.12 1059.96 L826.44 1060.85 L827.75 1061.78 L829.07 1062.74 L830.38 1063.75 L831.7 1064.79 L833.01 1065.88 L834.33 1067.02 L835.65 1068.2 L836.96 1069.43 L838.28 1070.71 L839.59 1072.04 L840.91 1073.43 L842.23 1074.88 L843.54 1076.38 L844.86 1077.95 L846.17 1079.58 L847.49 1081.28 L848.8 1083.05 L850.12 1084.9 L851.44 1086.82 L852.75 1088.81 L854.07 1090.9 L855.38 1093.06 L856.7 1095.32 L858.02 1097.67 L859.33 1100.11 L860.65 1102.66 L861.96 1105.31 L863.28 1108.07 L864.59 1110.95 L865.91 1113.94 L867.23 1117.06 L868.54 1120.31 L869.86 1123.69 L871.17 1127.21 L872.49 1130.87 L873.81 1134.69 L875.12 1138.67 L876.44 1142.8 L877.75 1147.11 L879.07 1151.6 L880.38 1156.27 L881.7 1161.14 L881.7 1260" stroke="#2ca02c"/>
<path d="M882.3 1036.3 V1260" stroke="#8c564b"/>
</g>
<path d="M225.1 1256.5 v12.4 M553.7 1256.5 v12.4 M882.3 1256.5 v12.4 M223.3 1038.4 h-12.4 M223.3 1146.55 h-12.4 M223.3 1254.7 h-12.4" stroke="#000" stroke-width="3.6" fill="none"/>
<rect x="225.1" y="1016.9" width="722.8" height="237.8" fill="none" stroke="#000" stroke-width="3.6"/>
</g>
<g id="labels">
<text x="301.5" y="68" font-size="39" textLength="47" lengthAdjust="spacingAndGlyphs">SP</text>
<text x="302.5" y="122" font-size="39" textLength="52" lengthAdjust="spacingAndGlyphs">TF</text>
<text><tspan x="302.3" y="177.6" font-size="39" textLength="79.5" lengthAdjust="spacingAndGlyphs">ETF</tspan> <tspan x="397.5" y="178.8" font-size="44.85" textLength="13" lengthAdjust="spacingAndGlyphs">(</tspan><tspan x="411.5" y="177.6" font-size="39" font-style="italic" textLength="25" lengthAdjust="spacingAndGlyphs">ψ</tspan> <tspan x="447.3" y="182.8" font-size="39" textLength="33" lengthAdjust="spacingAndGlyphs">=</tspan> <tspan x="490" y="177.6" font-size="37.83" textLength="18.5" lengthAdjust="spacingAndGlyphs">0</tspan><tspan x="510.5" y="178.8" font-size="44.85" textLength="13" lengthAdjust="spacingAndGlyphs">)</tspan></text>
<text><tspan x="651.3" y="68" font-size="39" textLength="79.5" lengthAdjust="spacingAndGlyphs">ETF</tspan> <tspan x="746.5" y="69.2" font-size="44.85" textLength="13" lengthAdjust="spacingAndGlyphs">(</tspan><tspan x="759.5" y="68" font-size="39" font-style="italic" textLength="25" lengthAdjust="spacingAndGlyphs">ψ</tspan> <tspan x="796.5" y="73.2" font-size="39" textLength="33" lengthAdjust="spacingAndGlyphs">=</tspan> <tspan x="840.5" y="77.6" font-size="46" textLength="28.5" lengthAdjust="spacingAndGlyphs">√</tspan><tspan x="872.5" y="67.5" font-size="39" font-style="italic" textLength="21.5" lengthAdjust="spacingAndGlyphs">n</tspan><tspan x="897.5" y="71.3" font-size="27.3" font-style="italic" textLength="27.5" lengthAdjust="spacingAndGlyphs">M</tspan><tspan x="930" y="69.2" font-size="44.85" textLength="13" lengthAdjust="spacingAndGlyphs">)</tspan></text>
<path d="M868 41.1 H929" stroke="#000" stroke-width="1.7" fill="none"/>
<text><tspan x="651.3" y="126.6" font-size="39" textLength="79.5" lengthAdjust="spacingAndGlyphs">ETF</tspan> <tspan x="746.5" y="127.8" font-size="44.85" textLength="13" lengthAdjust="spacingAndGlyphs">(</tspan><tspan x="760" y="126.6" font-size="39" textLength="21.5" lengthAdjust="spacingAndGlyphs">∂</tspan><tspan x="783" y="126.6" font-size="39" font-style="italic" textLength="25" lengthAdjust="spacingAndGlyphs">ψ</tspan> <tspan x="819.5" y="131.8" font-size="39" textLength="33" lengthAdjust="spacingAndGlyphs">=</tspan> <tspan x="861.5" y="126.6" font-size="37.83" textLength="18.5" lengthAdjust="spacingAndGlyphs">0</tspan><tspan x="884" y="127.8" font-size="44.85" textLength="13" lengthAdjust="spacingAndGlyphs">)</tspan></text>
<text><tspan x="652" y="181.6" font-size="39" font-style="italic" textLength="20.5" lengthAdjust="spacingAndGlyphs">λ</tspan><tspan x="673.5" y="187.5" font-size="28.08" textLength="45.5" lengthAdjust="spacingAndGlyphs">vW</tspan><tspan x="722.5" y="181.6" font-size="39" textLength="113" lengthAdjust="spacingAndGlyphs">-sweep</tspan></text>
<text><tspan x="181.3" y="266.7" font-size="54.6" textLength="28.5" lengthAdjust="spacingAndGlyphs">×</tspan><tspan x="212.2" y="261.1" font-size="42" textLength="41" lengthAdjust="spacingAndGlyphs">10</tspan><tspan x="254.8" y="244.5" font-size="30.24" textLength="32" lengthAdjust="spacingAndGlyphs">23</tspan></text>
<text x="149.8" y="287.4" font-size="42" text-anchor="end" textLength="42.5" lengthAdjust="spacingAndGlyphs">10</text>
<text x="149.8" y="475.65" font-size="42" text-anchor="end" textLength="21.5" lengthAdjust="spacingAndGlyphs">5</text>
<text x="149.8" y="663.9" font-size="42" text-anchor="end" textLength="21.5" lengthAdjust="spacingAndGlyphs">0</text>
<text x="196.6" y="715" font-size="42" text-anchor="middle" textLength="21.5" lengthAdjust="spacingAndGlyphs">0</text>
<text x="378.48" y="715" font-size="42" text-anchor="middle" textLength="21.5" lengthAdjust="spacingAndGlyphs">5</text>
<text x="560.35" y="715" font-size="42" text-anchor="middle" textLength="42.5" lengthAdjust="spacingAndGlyphs">10</text>
<text x="742.23" y="715" font-size="42" text-anchor="middle" textLength="42.5" lengthAdjust="spacingAndGlyphs">15</text>
<text x="924.1" y="715" font-size="42" text-anchor="middle" textLength="42.5" lengthAdjust="spacingAndGlyphs">20</text>
<text><tspan x="504" y="771" font-size="42" font-style="italic" textLength="27" lengthAdjust="spacingAndGlyphs">L</tspan> <tspan x="548.5" y="772.2" font-size="48.3" textLength="13.5" lengthAdjust="spacingAndGlyphs">(</tspan><tspan x="562.5" y="771" font-size="42" textLength="57" lengthAdjust="spacingAndGlyphs">nm</tspan><tspan x="622" y="772.2" font-size="48.3" textLength="13.5" lengthAdjust="spacingAndGlyphs">)</tspan></text>
<text transform="translate(79.5 540.5) rotate(-90)"><tspan x="-1" y="0" font-size="42" font-style="italic" textLength="26" lengthAdjust="spacingAndGlyphs">n</tspan> <tspan x="42" y="1.2" font-size="48.3" textLength="13.5" lengthAdjust="spacingAndGlyphs">(</tspan><tspan x="56.5" y="0" font-size="42" textLength="33.5" lengthAdjust="spacingAndGlyphs">m</tspan><tspan x="92.8" y="-14.3" font-size="29.4" textLength="24" lengthAdjust="spacingAndGlyphs">−</tspan><tspan x="117.8" y="-15.5" font-size="30.24" textLength="16" lengthAdjust="spacingAndGlyphs">3</tspan><tspan x="137.5" y="1.2" font-size="48.3" textLength="13.5" lengthAdjust="spacingAndGlyphs">)</tspan></text>
<text x="59" y="890.6" font-size="34.5" textLength="35.5" lengthAdjust="spacingAndGlyphs">Al</text>
<text x="981.5" y="795.5" font-size="33.5" font-style="italic" textLength="23" lengthAdjust="spacingAndGlyphs">L</text>
<text><tspan x="225.35" y="1010.36" font-size="53.23" textLength="27.79" lengthAdjust="spacingAndGlyphs">×</tspan><tspan x="255.48" y="1004.9" font-size="40.95" textLength="39.98" lengthAdjust="spacingAndGlyphs">10</tspan><tspan x="297.01" y="988.71" font-size="29.48" textLength="31.2" lengthAdjust="spacingAndGlyphs">26</tspan></text>
<text><tspan x="197" y="1052.7" font-size="42" text-anchor="end" textLength="50.5" lengthAdjust="spacingAndGlyphs">0.0</tspan></text>
<text><tspan x="145.5" y="1163.85" font-size="42" text-anchor="end" textLength="29" lengthAdjust="spacingAndGlyphs">−</tspan><tspan x="197" y="1160.85" font-size="42" text-anchor="end" textLength="50.5" lengthAdjust="spacingAndGlyphs">0.5</tspan></text>
<text><tspan x="145.5" y="1272" font-size="42" text-anchor="end" textLength="29" lengthAdjust="spacingAndGlyphs">−</tspan><tspan x="197" y="1269" font-size="42" text-anchor="end" textLength="50.5" lengthAdjust="spacingAndGlyphs">1.0</tspan></text>
<text><tspan x="184.9" y="1314" font-size="42" textLength="29" lengthAdjust="spacingAndGlyphs">−</tspan><tspan x="214.8" y="1311" font-size="42" textLength="50.5" lengthAdjust="spacingAndGlyphs">1.0</tspan></text>
<text><tspan x="513.5" y="1314" font-size="42" textLength="29" lengthAdjust="spacingAndGlyphs">−</tspan><tspan x="543.4" y="1311" font-size="42" textLength="50.5" lengthAdjust="spacingAndGlyphs">0.5</tspan></text>
<text><tspan x="857.05" y="1311" font-size="42" textLength="50.5" lengthAdjust="spacingAndGlyphs">0.0</tspan></text>
<text><tspan x="525" y="1364" font-size="39.48" font-style="italic" textLength="25.38" lengthAdjust="spacingAndGlyphs">L</tspan> <tspan x="566.83" y="1365.2" font-size="45.4" textLength="12.69" lengthAdjust="spacingAndGlyphs">(</tspan><tspan x="579.99" y="1364" font-size="39.48" textLength="53.58" lengthAdjust="spacingAndGlyphs">nm</tspan><tspan x="635.92" y="1365.2" font-size="45.4" textLength="12.69" lengthAdjust="spacingAndGlyphs">)</tspan></text>
<text transform="translate(90 1260.5) rotate(-90)"><tspan x="0" y="0" font-size="39.48" font-style="italic" textLength="22" lengthAdjust="spacingAndGlyphs">n</tspan> <tspan x="32.5" y="3" font-size="39.48" textLength="26" lengthAdjust="spacingAndGlyphs">−</tspan> <tspan x="73" y="0" font-size="39.48" font-style="italic" textLength="22" lengthAdjust="spacingAndGlyphs">n</tspan><tspan x="99" y="6" font-size="27.64" font-style="italic" textLength="27" lengthAdjust="spacingAndGlyphs">M</tspan> <tspan x="140.5" y="1.2" font-size="45.4" textLength="13" lengthAdjust="spacingAndGlyphs">(</tspan><tspan x="155.5" y="0" font-size="39.48" textLength="33" lengthAdjust="spacingAndGlyphs">m</tspan><tspan x="192.5" y="-14.3" font-size="27.64" textLength="21" lengthAdjust="spacingAndGlyphs">−</tspan><tspan x="215" y="-15.5" font-size="27.64" textLength="14.5" lengthAdjust="spacingAndGlyphs">3</tspan><tspan x="237.5" y="1.2" font-size="45.4" textLength="13" lengthAdjust="spacingAndGlyphs">)</tspan></text>
</g>
</svg>
</body></html>
